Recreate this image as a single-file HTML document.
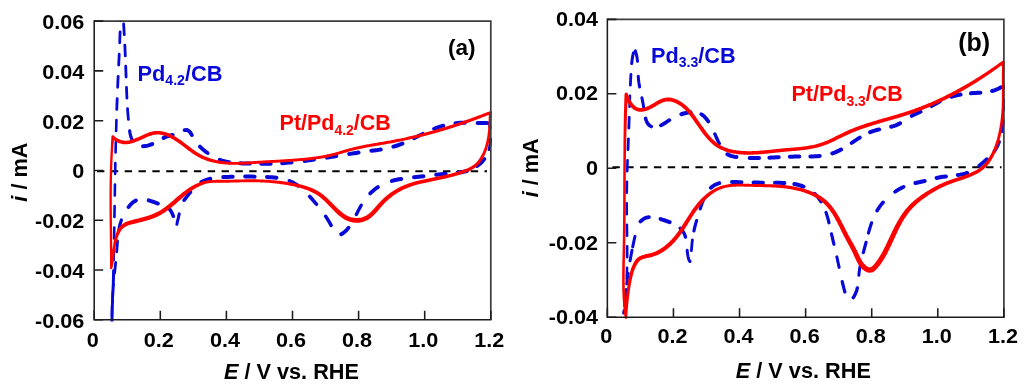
<!DOCTYPE html>
<html lang="en"><head><meta charset="utf-8"><title>Cyclic voltammograms</title>
<style>html,body{margin:0;padding:0;background:#fff;}body{width:1024px;height:391px;overflow:hidden;}svg{display:block;filter:blur(0.35px);}
text{font-family:"Liberation Sans", sans-serif;font-weight:bold;}
.ax{stroke:#1c1c1c;stroke-width:1.55;fill:none;}
.fr{stroke:#3c3c3c;stroke-width:1.7;fill:none;}
.blue{stroke:#0808d8;fill:none;stroke-linecap:round;stroke-linejoin:round;}
.redf{fill:#ff0000;stroke:none;fill-rule:nonzero;}
.zero{stroke:#000;stroke-width:1.9;stroke-dasharray:7.4 6.44;fill:none;}
</style></head><body>
<svg width="1024" height="391" viewBox="0 0 1024 391">
<rect width="1024" height="391" fill="#fff"/>
<g>
<clipPath id="clipa"><rect x="92.20" y="20.40" width="400.60" height="301.20"/></clipPath>
<path class="zero" d="M97.00 171.30 H487.00"/>
<g clip-path="url(#clipa)">
<g transform="scale(1 1.0)">
<path class="blue" stroke-width="2.6" d="M112.51 302.91 L112.58 300.75 L112.65 298.59 L112.72 296.43 L112.79 294.26 L112.85 292.10M113.15 281.42 L113.21 279.26 L113.26 277.09 L113.32 274.93 L113.37 272.77 L113.42 270.61M113.66 259.92 L113.71 257.76 L113.75 255.60 L113.79 253.44 L113.84 251.28 L113.88 249.12M114.08 238.43 L114.12 236.27 L114.15 234.10 L114.19 231.94 L114.23 229.78 L114.26 227.62M114.44 216.93 L114.47 214.77 L114.51 212.61 L114.54 210.44 L114.58 208.28 L114.61 206.12M114.79 195.43 L114.82 193.27 L114.86 191.11 L114.89 188.95 L114.93 186.79 L114.97 184.62M115.16 173.94 L115.19 171.77 L115.24 169.61 L115.28 167.45 L115.32 165.29 L115.36 163.13M115.59 152.44 L115.63 150.28 L115.68 148.12 L115.73 145.96 L115.78 143.79 L115.84 141.63M116.12 130.95 L116.18 128.79 L116.24 126.62 L116.30 124.46 L116.36 122.30 L116.43 120.14M112.15 305.27 L112.07 307.43 L112.01 309.59 L111.97 311.75 L111.94 313.91 L111.93 316.07"/>
<path class="blue" stroke-width="2.8" d="M111.80 322.00 L111.88 319.90 L111.97 317.80 L112.05 315.69 L112.13 313.59M116.78 109.46 L116.86 107.30 L116.93 105.14 L117.01 102.98 L117.10 100.82 L117.18 98.66M117.65 87.23 L117.75 85.07 L117.84 82.91 L117.94 80.75 L118.04 78.59 L118.15 76.43M118.70 65.01 L118.80 62.85 L118.91 60.69 L119.01 58.53 L119.11 56.37 L119.21 54.21M119.70 42.79 L119.78 40.63 L119.86 38.46 L119.94 36.30 L120.01 34.14 L120.08 31.98M120.51 20.80 L120.60 18.65 L120.70 16.49 L120.80 14.33 L120.91 12.17 L121.02 10.01M122.26 1.95 L122.56 4.08 L122.71 6.24 L122.84 8.39 L122.95 10.55 L123.07 12.71M123.63 23.89 L123.74 26.05 L123.87 28.20 L123.99 30.36 L124.12 32.52 L124.25 34.68M124.81 45.04 L124.92 47.20 L125.02 49.36 L125.11 51.52 L125.21 53.68 L125.30 55.83M125.71 66.20 L125.79 68.36 L125.87 70.52 L125.94 72.68 L126.02 74.84 L126.10 77.00M126.48 87.37 L126.57 89.53 L126.66 91.69 L126.75 93.85 L126.84 96.01 L126.94 98.17M127.53 108.53 L127.67 110.68 L127.83 112.84 L128.00 114.99 L128.18 117.14 L128.38 119.30M117.56 241.00 L117.39 243.16 L117.23 245.31 L117.05 247.46 L116.87 249.62 L116.69 251.77M115.68 262.42 L115.47 264.57 L115.25 266.72 L115.04 268.87 L114.82 271.02 L114.61 273.16M113.60 283.82 L113.41 285.97 L113.23 288.12 L113.06 290.28 L112.89 292.43 L112.74 294.59M113.70 274.00 L112.90 290.00 L112.30 306.00 L112.00 322.00"/>
<path class="blue" stroke-width="3.0" d="M489.50 122.80 L489.82 125.50 L490.10 128.20M490.56 138.89 L490.48 141.04 L490.28 143.19 L489.99 145.33 L489.60 147.45 L489.10 149.55M179.21 213.86 L178.78 215.97 L178.28 218.06 L177.77 220.14 L177.28 222.23 L176.94 224.35"/>
<path class="blue" stroke-width="3.2" d="M129.68 130.92 L130.01 133.03 L130.43 135.13 L130.99 137.20 L131.82 139.17 L132.89 141.01M121.42 219.93 L120.74 221.96 L120.13 224.01 L119.59 226.08 L119.16 228.18 L118.78 230.29"/>
<path class="blue" stroke-width="3.4" d="M361.23 205.28 L360.19 207.10 L359.19 208.95 L358.22 210.81 L357.27 212.68 L356.33 214.56"/>
<path class="blue" stroke-width="3.6" d="M331.05 225.32 L330.07 223.48 L329.04 221.66 L327.97 219.87 L326.84 218.11 L325.69 216.37M316.39 204.22 L315.09 202.65 L313.77 201.09 L312.44 199.54 L311.10 198.00 L309.72 196.49M190.46 192.13 L189.17 193.73 L187.89 195.33 L186.62 196.95 L185.35 198.56 L184.12 200.21M173.28 216.24 L172.56 214.28 L171.68 212.39 L170.63 210.59 L169.37 208.92 L167.72 207.65"/>
<path class="blue" stroke-width="3.8" d="M184.57 130.03 L187.00 129.83 L189.12 131.06 L190.62 132.96 L191.85 135.09M199.96 146.63 L201.74 148.39 L203.62 150.03 L205.57 151.59 L207.59 153.06M414.15 138.29 L416.30 137.17 L418.44 136.04 L420.59 134.92 L422.76 133.82M484.35 159.08 L483.10 160.66 L481.74 162.15 L480.28 163.54 L478.75 164.86 L477.14 166.08M377.89 187.10 L375.87 188.54 L373.91 190.09 L372.04 191.73 L370.24 193.46M348.57 227.65 L347.30 229.21 L345.96 230.71 L344.50 232.09 L342.91 233.28 L341.15 234.25M297.93 185.67 L295.92 184.29 L293.83 183.03 L291.68 181.88 L289.47 180.87M135.92 200.52 L134.18 201.49 L132.55 202.65 L131.12 204.04 L129.79 205.53 L128.54 207.10"/>
<path class="blue" stroke-width="4.0" d="M143.02 146.13 L145.39 146.10 L147.71 145.65 L149.96 144.95 L152.15 144.06M163.62 137.88 L165.80 136.91 L168.03 136.11 L170.33 135.48 L172.66 134.95M219.82 159.79 L222.06 160.59 L224.34 161.24 L226.65 161.79 L228.98 162.24M240.33 163.35 L242.68 163.44 L245.03 163.50 L247.38 163.55 L249.73 163.60M261.24 163.79 L263.59 163.80 L265.94 163.78 L268.29 163.75 L270.64 163.70M282.14 163.16 L284.48 162.99 L286.83 162.80 L289.17 162.60 L291.51 162.39M304.60 160.92 L306.94 160.61 L309.27 160.30 L311.61 159.97 L313.94 159.64M326.94 157.65 L329.27 157.27 L331.60 156.89 L333.93 156.51 L336.25 156.12M349.22 154.00 L351.55 153.63 L353.88 153.26 L356.21 152.90 L358.54 152.56M371.41 150.83 L373.75 150.54 L376.08 150.23 L378.41 149.89 L380.74 149.53M393.40 146.66 L395.68 145.97 L397.96 145.24 L400.21 144.46 L402.44 143.62M434.13 128.75 L436.36 127.90 L438.61 127.11 L440.88 126.37 L443.17 125.69M455.52 123.19 L457.86 122.95 L460.21 122.79 L462.55 122.70 L464.91 122.67M477.66 122.97 L480.01 123.02 L482.36 123.04 L484.71 123.01 L487.06 122.94M466.89 170.94 L464.60 171.53 L462.29 172.02 L459.96 172.41 L457.62 172.71M445.61 173.77 L443.27 173.99 L440.93 174.23 L438.59 174.48 L436.25 174.76M423.39 176.32 L421.05 176.59 L418.71 176.84 L416.37 177.08 L414.03 177.32M401.17 178.91 L398.84 179.32 L396.52 179.77 L394.21 180.29 L391.92 180.89M276.39 177.72 L274.05 177.48 L271.71 177.28 L269.36 177.13 L267.01 177.01M254.56 176.63 L252.21 176.60 L249.86 176.58 L247.51 176.58 L245.16 176.58M232.68 176.77 L230.34 176.83 L227.99 176.90 L225.64 176.98 L223.29 177.08M210.31 178.71 L208.01 179.34 L205.74 180.10 L203.53 181.01 L201.40 182.11M157.82 203.52 L155.57 202.70 L153.33 201.89 L151.07 201.11 L148.79 200.41"/>
<path class="redf" d="M112.38 268.00 L112.37 266.80 L112.37 265.59 L112.37 264.39 L112.37 263.18 L112.36 261.98 L112.36 260.77 L112.35 259.57 L112.34 258.37 L112.34 257.16 L112.33 255.96 L112.32 254.75 L112.31 253.55 L112.30 252.35 L112.29 251.14 L112.28 249.94 L112.26 248.74 L112.25 247.53 L112.24 246.33 L112.23 245.13 L112.21 243.92 L112.20 242.72 L112.19 241.52 L112.17 240.31 L112.16 239.11 L112.15 237.90 L112.13 236.70 L112.12 235.50 L112.10 234.30 L112.09 233.09 L112.07 231.89 L112.06 230.69 L112.04 229.48 L112.03 228.28 L112.02 227.08 L112.00 225.87 L111.99 224.67 L111.98 223.47 L111.96 222.26 L111.95 221.06 L111.94 219.86 L111.93 218.66 L111.91 217.45 L111.90 216.25 L111.89 215.05 L111.88 213.85 L111.87 212.64 L111.86 211.44 L111.86 210.24 L111.85 209.03 L111.84 207.83 L111.84 206.63 L111.83 205.43 L111.83 204.22 L111.82 203.02 L111.82 201.82 L111.82 200.62 L111.82 199.42 L111.82 198.21 L111.82 197.01 L111.82 195.81 L111.83 194.61 L111.83 193.40 L111.84 192.20 L111.84 191.00 L111.85 189.80 L111.86 188.60 L111.87 187.39 L111.88 186.19 L111.90 184.99 L111.91 183.79 L111.93 182.59 L111.95 181.39 L111.97 180.18 L111.99 178.98 L112.01 177.78 L112.03 176.58 L112.06 175.38 L112.09 174.18 L112.12 172.98 L112.15 171.77 L112.18 170.57 L112.22 169.37 L112.25 168.17 L112.29 166.97 L112.33 165.77 L112.37 164.57 L112.42 163.37 L112.46 162.17 L112.51 160.97 L112.56 159.77 L112.62 158.57 L112.67 157.37 L112.73 156.17 L112.79 154.97 L112.85 153.77 L112.91 152.57 L112.98 151.37 L113.05 150.17 L113.14 148.97 L113.24 147.78 L113.35 146.58 L113.45 145.39 L113.56 144.19 L113.66 142.99 L113.78 141.80 L113.89 140.60 L114.01 139.41 L114.13 138.21 L114.25 137.02 L111.35 136.78 L111.28 137.99 L111.21 139.19 L111.14 140.39 L111.08 141.60 L111.01 142.80 L110.96 144.01 L110.90 145.21 L110.85 146.42 L110.80 147.62 L110.75 148.83 L110.70 150.04 L110.63 151.24 L110.56 152.44 L110.50 153.65 L110.44 154.85 L110.38 156.05 L110.32 157.26 L110.27 158.46 L110.21 159.67 L110.16 160.87 L110.11 162.08 L110.07 163.28 L110.02 164.48 L109.98 165.69 L109.94 166.89 L109.90 168.10 L109.86 169.30 L109.83 170.51 L109.80 171.71 L109.76 172.92 L109.74 174.12 L109.71 175.33 L109.68 176.53 L109.66 177.74 L109.64 178.94 L109.61 180.14 L109.60 181.35 L109.58 182.55 L109.56 183.76 L109.55 184.96 L109.53 186.17 L109.52 187.37 L109.51 188.58 L109.50 189.78 L109.49 190.98 L109.48 192.19 L109.48 193.39 L109.47 194.60 L109.47 195.80 L109.47 197.01 L109.47 198.21 L109.47 199.42 L109.47 200.62 L109.47 201.82 L109.47 203.03 L109.47 204.23 L109.48 205.44 L109.48 206.64 L109.49 207.84 L109.50 209.05 L109.50 210.25 L109.51 211.46 L109.52 212.66 L109.53 213.86 L109.54 215.07 L109.55 216.27 L109.56 217.48 L109.57 218.68 L109.59 219.88 L109.60 221.09 L109.61 222.29 L109.62 223.49 L109.64 224.70 L109.65 225.90 L109.66 227.10 L109.68 228.31 L109.69 229.51 L109.71 230.71 L109.72 231.92 L109.74 233.12 L109.75 234.32 L109.76 235.53 L109.78 236.73 L109.79 237.93 L109.81 239.14 L109.82 240.34 L109.84 241.54 L109.85 242.75 L109.86 243.95 L109.88 245.15 L109.89 246.35 L109.90 247.56 L109.91 248.76 L109.92 249.96 L109.94 251.16 L109.95 252.37 L109.96 253.57 L109.97 254.77 L109.98 255.98 L109.98 257.18 L109.99 258.38 L110.00 259.58 L110.00 260.79 L110.01 261.99 L110.01 263.19 L110.02 264.39 L110.02 265.60 L110.02 266.80 L110.02 268.00ZM111.83 137.99 L112.68 138.83 L113.58 139.72 L114.59 140.58 L115.62 141.32 L116.72 142.10 L117.95 142.65 L119.13 143.16 L120.42 143.58 L121.67 143.87 L123.00 144.16 L124.37 144.23 L125.64 144.28 L126.98 144.23 L128.25 144.07 L129.55 143.90 L130.82 143.59 L132.03 143.28 L133.25 142.92 L134.43 142.50 L135.60 142.09 L136.76 141.61 L137.88 141.14 L139.01 140.66 L140.12 140.16 L141.22 139.66 L142.31 139.16 L143.40 138.66 L144.48 138.18 L145.57 137.70 L146.64 137.23 L147.73 136.80 L148.82 136.37 L149.89 135.98 L151.00 135.63 L152.07 135.29 L153.16 135.05 L154.28 134.81 L155.35 134.64 L156.47 134.55 L157.55 134.47 L158.62 134.52 L159.76 134.60 L160.83 134.73 L161.93 134.95 L163.04 135.17 L164.09 135.49 L165.20 135.84 L166.26 136.21 L167.32 136.65 L168.39 137.09 L169.41 137.58 L170.46 138.10 L171.48 138.63 L172.50 139.21 L173.51 139.79 L174.50 140.40 L175.50 141.03 L176.48 141.66 L177.45 142.32 L178.43 142.99 L179.39 143.68 L180.35 144.37 L181.31 145.07 L182.25 145.79 L183.21 146.51 L184.16 147.23 L185.11 147.96 L186.06 148.70 L187.02 149.43 L187.98 150.16 L188.95 150.89 L189.92 151.61 L190.91 152.33 L191.91 153.03 L192.91 153.74 L193.94 154.42 L194.96 155.08 L196.01 155.75 L197.08 156.37 L198.15 156.99 L199.26 157.58 L200.36 158.12 L201.48 158.66 L202.63 159.14 L203.76 159.62 L204.92 160.07 L206.07 160.49 L207.24 160.91 L208.42 161.27 L209.59 161.64 L210.78 161.97 L211.96 162.28 L213.16 162.59 L214.36 162.85 L215.56 163.10 L216.77 163.33 L217.97 163.54 L219.18 163.75 L220.40 163.91 L221.60 164.07 L222.82 164.21 L224.03 164.32 L225.25 164.44 L226.47 164.52 L227.68 164.59 L228.91 164.66 L230.12 164.72 L231.33 164.77 L232.55 164.80 L233.76 164.82 L234.98 164.83 L236.19 164.82 L237.40 164.82 L238.62 164.79 L239.82 164.77 L241.03 164.73 L242.24 164.68 L243.45 164.64 L244.66 164.58 L245.86 164.52 L247.07 164.45 L248.27 164.38 L249.47 164.31 L250.67 164.24 L251.87 164.16 L253.07 164.08 L254.27 164.00 L255.47 163.92 L256.66 163.85 L257.86 163.77 L259.06 163.69 L260.26 163.62 L261.45 163.55 L262.65 163.48 L263.85 163.41 L265.04 163.34 L266.24 163.27 L267.44 163.20 L268.64 163.14 L269.84 163.07 L271.04 163.00 L272.24 162.94 L273.44 162.87 L274.63 162.81 L275.83 162.74 L277.03 162.67 L278.23 162.60 L279.43 162.54 L280.63 162.47 L281.83 162.40 L283.03 162.33 L284.23 162.25 L285.43 162.18 L286.64 162.10 L287.84 162.03 L289.04 161.95 L290.24 161.87 L291.44 161.78 L292.64 161.70 L293.84 161.61 L295.04 161.52 L296.24 161.42 L297.44 161.33 L298.64 161.23 L299.84 161.12 L301.04 161.02 L302.24 160.91 L303.44 160.80 L304.64 160.68 L305.84 160.56 L307.04 160.43 L308.24 160.30 L309.44 160.17 L310.64 160.03 L311.83 159.89 L313.03 159.74 L314.23 159.58 L315.43 159.43 L316.63 159.26 L317.82 159.09 L319.02 158.92 L320.21 158.73 L321.41 158.54 L322.61 158.34 L323.79 158.13 L324.99 157.92 L326.18 157.68 L327.37 157.45 L328.56 157.19 L329.74 156.93 L330.93 156.66 L332.11 156.37 L333.29 156.07 L334.47 155.76 L335.63 155.44 L336.80 155.12 L337.96 154.78 L339.12 154.45 L340.28 154.11 L341.43 153.76 L342.58 153.42 L343.73 153.07 L344.88 152.73 L346.03 152.39 L347.18 152.06 L348.32 151.73 L349.47 151.41 L350.62 151.10 L351.77 150.79 L352.92 150.50 L354.07 150.21 L355.23 149.93 L356.39 149.66 L357.55 149.40 L358.72 149.14 L359.89 148.88 L361.05 148.64 L362.22 148.40 L363.39 148.17 L364.57 147.94 L365.74 147.71 L366.91 147.49 L368.09 147.27 L369.27 147.06 L370.45 146.85 L371.63 146.64 L372.81 146.44 L373.99 146.23 L375.17 146.03 L376.35 145.83 L377.54 145.63 L378.72 145.43 L379.90 145.24 L381.09 145.04 L382.27 144.84 L383.46 144.64 L384.64 144.44 L385.83 144.24 L387.02 144.03 L388.20 143.82 L389.39 143.62 L390.57 143.40 L391.76 143.19 L392.94 142.97 L394.13 142.75 L395.31 142.53 L396.50 142.30 L397.68 142.07 L398.86 141.83 L400.04 141.59 L401.22 141.36 L402.40 141.11 L403.58 140.87 L404.76 140.62 L405.94 140.37 L407.12 140.12 L408.30 139.86 L409.47 139.60 L410.65 139.34 L411.82 139.07 L413.00 138.80 L414.17 138.53 L415.34 138.25 L416.52 137.98 L417.69 137.70 L418.86 137.41 L420.03 137.13 L421.20 136.84 L422.37 136.54 L423.53 136.25 L424.70 135.95 L425.87 135.65 L427.03 135.35 L428.20 135.04 L429.36 134.73 L430.53 134.42 L431.69 134.10 L432.85 133.79 L434.01 133.47 L435.17 133.14 L436.33 132.82 L437.49 132.49 L438.65 132.16 L439.81 131.82 L440.96 131.48 L442.12 131.15 L443.27 130.80 L444.43 130.46 L445.58 130.11 L446.73 129.76 L447.89 129.41 L449.04 129.05 L450.19 128.70 L451.34 128.33 L452.48 127.96 L453.63 127.59 L454.77 127.22 L455.92 126.84 L457.06 126.46 L458.20 126.08 L459.34 125.70 L460.49 125.31 L461.62 124.92 L462.77 124.53 L463.90 124.14 L465.04 123.75 L466.18 123.35 L467.31 122.95 L468.45 122.54 L469.58 122.14 L470.71 121.73 L471.85 121.32 L472.98 120.91 L474.11 120.49 L475.24 120.08 L476.37 119.66 L477.49 119.24 L478.62 118.81 L479.75 118.39 L480.87 117.96 L482.00 117.53 L483.12 117.09 L484.24 116.66 L485.37 116.22 L486.49 115.78 L487.61 115.34 L488.72 114.90 L489.84 114.45 L490.96 114.01 L489.84 111.19 L488.73 111.63 L487.61 112.07 L486.49 112.51 L485.38 112.94 L484.26 113.37 L483.14 113.80 L482.02 114.23 L480.90 114.65 L479.78 115.08 L478.66 115.50 L477.54 115.91 L476.41 116.33 L475.29 116.74 L474.16 117.16 L473.04 117.57 L471.91 117.97 L470.78 118.38 L469.66 118.78 L468.53 119.18 L467.40 119.58 L466.27 119.97 L465.14 120.36 L464.00 120.75 L462.87 121.14 L461.74 121.53 L460.60 121.91 L459.47 122.29 L458.33 122.67 L457.19 123.04 L456.06 123.41 L454.92 123.78 L453.78 124.15 L452.64 124.52 L451.50 124.88 L450.35 125.24 L449.21 125.60 L448.07 125.96 L446.93 126.32 L445.78 126.67 L444.64 127.03 L443.50 127.37 L442.35 127.72 L441.20 128.07 L440.06 128.41 L438.91 128.75 L437.76 129.09 L436.61 129.42 L435.46 129.75 L434.31 130.08 L433.16 130.41 L432.01 130.73 L430.85 131.05 L429.70 131.37 L428.54 131.68 L427.39 132.00 L426.23 132.31 L425.07 132.61 L423.92 132.92 L422.76 133.22 L421.60 133.52 L420.44 133.81 L419.28 134.11 L418.12 134.40 L416.95 134.68 L415.79 134.97 L414.63 135.25 L413.46 135.53 L412.30 135.80 L411.13 136.07 L409.97 136.34 L408.80 136.61 L407.63 136.87 L406.46 137.13 L405.29 137.39 L404.12 137.65 L402.96 137.90 L401.78 138.14 L400.61 138.39 L399.44 138.63 L398.27 138.87 L397.09 139.10 L395.92 139.33 L394.74 139.56 L393.57 139.79 L392.39 140.01 L391.22 140.23 L390.04 140.44 L388.86 140.66 L387.68 140.87 L386.50 141.07 L385.32 141.28 L384.14 141.48 L382.96 141.69 L381.78 141.89 L380.59 142.09 L379.41 142.29 L378.22 142.49 L377.04 142.69 L375.85 142.89 L374.67 143.09 L373.48 143.29 L372.30 143.50 L371.11 143.71 L369.93 143.92 L368.74 144.13 L367.55 144.35 L366.37 144.57 L365.18 144.79 L364.00 145.03 L362.82 145.26 L361.63 145.50 L360.45 145.74 L359.27 145.99 L358.08 146.25 L356.91 146.51 L355.73 146.78 L354.55 147.06 L353.37 147.34 L352.20 147.64 L351.03 147.94 L349.85 148.25 L348.69 148.58 L347.52 148.90 L346.36 149.24 L345.20 149.58 L344.04 149.92 L342.89 150.27 L341.74 150.61 L340.59 150.96 L339.44 151.30 L338.30 151.64 L337.15 151.98 L336.00 152.31 L334.86 152.63 L333.71 152.95 L332.56 153.25 L331.41 153.54 L330.26 153.83 L329.11 154.09 L327.94 154.35 L326.79 154.59 L325.62 154.82 L324.45 155.05 L323.29 155.26 L322.11 155.47 L320.94 155.67 L319.76 155.85 L318.58 156.04 L317.41 156.21 L316.22 156.38 L315.04 156.54 L313.86 156.70 L312.67 156.85 L311.49 156.99 L310.30 157.14 L309.11 157.28 L307.92 157.41 L306.73 157.54 L305.55 157.66 L304.35 157.78 L303.16 157.90 L301.97 158.01 L300.78 158.12 L299.59 158.22 L298.40 158.33 L297.20 158.43 L296.01 158.52 L294.82 158.62 L293.62 158.70 L292.43 158.79 L291.23 158.88 L290.04 158.96 L288.84 159.04 L287.65 159.12 L286.45 159.20 L285.25 159.27 L284.06 159.35 L282.86 159.42 L281.66 159.49 L280.46 159.56 L279.27 159.63 L278.07 159.70 L276.87 159.76 L275.67 159.83 L274.47 159.90 L273.27 159.96 L272.08 160.03 L270.88 160.10 L269.68 160.16 L268.48 160.23 L267.28 160.29 L266.08 160.36 L264.88 160.43 L263.68 160.50 L262.48 160.57 L261.28 160.64 L260.08 160.71 L258.88 160.79 L257.68 160.86 L256.48 160.94 L255.28 161.02 L254.08 161.10 L252.88 161.18 L251.68 161.25 L250.49 161.33 L249.29 161.41 L248.10 161.48 L246.90 161.55 L245.71 161.61 L244.51 161.67 L243.32 161.73 L242.13 161.77 L240.94 161.82 L239.75 161.86 L238.55 161.88 L237.37 161.91 L236.18 161.91 L234.99 161.92 L233.80 161.91 L232.61 161.88 L231.43 161.86 L230.25 161.81 L229.06 161.76 L227.88 161.69 L226.69 161.58 L225.52 161.48 L224.35 161.34 L223.17 161.20 L222.01 161.04 L220.84 160.86 L219.68 160.68 L218.53 160.46 L217.37 160.23 L216.23 159.98 L215.08 159.71 L213.94 159.43 L212.82 159.12 L211.68 158.79 L210.57 158.45 L209.45 158.08 L208.35 157.71 L207.27 157.29 L206.17 156.86 L205.10 156.42 L204.03 155.94 L202.97 155.46 L201.95 154.94 L200.90 154.39 L199.89 153.86 L198.88 153.27 L197.87 152.69 L196.90 152.07 L195.90 151.42 L194.93 150.78 L193.97 150.10 L193.00 149.42 L192.05 148.72 L191.09 148.01 L190.14 147.30 L189.19 146.58 L188.24 145.85 L187.29 145.12 L186.34 144.39 L185.38 143.65 L184.41 142.93 L183.44 142.20 L182.46 141.48 L181.48 140.77 L180.48 140.05 L179.48 139.37 L178.46 138.68 L177.43 138.01 L176.40 137.36 L175.34 136.70 L174.27 136.09 L173.20 135.48 L172.09 134.91 L170.99 134.36 L169.85 133.81 L168.69 133.34 L167.53 132.86 L166.33 132.44 L165.14 132.06 L163.90 131.70 L162.65 131.44 L161.40 131.19 L160.09 131.03 L158.83 130.94 L157.50 130.88 L156.20 130.98 L154.92 131.08 L153.62 131.29 L152.39 131.55 L151.14 131.83 L149.92 132.21 L148.74 132.59 L147.55 133.02 L146.41 133.46 L145.26 133.92 L144.13 134.42 L143.03 134.90 L141.92 135.40 L140.82 135.90 L139.73 136.40 L138.64 136.89 L137.56 137.38 L136.48 137.84 L135.39 138.30 L134.32 138.74 L133.23 139.12 L132.14 139.51 L131.07 139.83 L129.95 140.12 L128.89 140.38 L127.80 140.52 L126.69 140.66 L125.64 140.70 L124.52 140.65 L123.48 140.61 L122.47 140.37 L121.38 140.13 L120.40 139.81 L119.37 139.36 L118.40 138.96 L117.48 138.44 L116.49 137.88 L115.60 137.28 L114.71 136.57 L113.77 135.81ZM488.89 112.53 L488.85 113.73 L488.81 114.93 L488.77 116.13 L488.73 117.34 L488.69 118.54 L488.65 119.74 L488.61 120.94 L488.57 122.13 L488.52 123.33 L488.48 124.52 L488.41 125.72 L488.35 126.91 L488.27 128.10 L488.16 129.29 L488.05 130.47 L487.92 131.65 L487.79 132.84 L487.64 134.01 L487.47 135.20 L487.31 136.36 L487.11 137.53 L486.91 138.70 L486.69 139.85 L486.44 141.02 L486.20 142.16 L485.90 143.30 L485.61 144.45 L485.29 145.57 L484.94 146.70 L484.59 147.81 L484.19 148.91 L483.78 150.01 L483.35 151.09 L482.88 152.17 L482.42 153.23 L481.89 154.26 L481.35 155.31 L480.79 156.31 L480.18 157.31 L479.59 158.29 L478.92 159.21 L478.23 160.15 L477.53 161.03 L476.75 161.90 L476.02 162.74 L475.19 163.49 L474.33 164.26 L473.47 164.94 L472.53 165.60 L471.62 166.23 L470.64 166.75 L469.61 167.31 L468.59 167.80 L467.52 168.26 L466.46 168.72 L465.37 169.12 L464.26 169.53 L463.15 169.93 L462.02 170.32 L460.91 170.71 L459.78 171.07 L458.64 171.43 L457.51 171.78 L456.37 172.12 L455.23 172.46 L454.09 172.77 L452.94 173.09 L451.79 173.39 L450.63 173.69 L449.48 173.99 L448.32 174.27 L447.16 174.55 L446.00 174.82 L444.84 175.09 L443.67 175.35 L442.51 175.61 L441.34 175.86 L440.17 176.11 L438.99 176.35 L437.82 176.60 L436.65 176.84 L435.47 177.08 L434.30 177.31 L433.12 177.54 L431.94 177.78 L430.77 178.01 L429.59 178.24 L428.40 178.48 L427.23 178.71 L426.04 178.95 L424.86 179.19 L423.67 179.43 L422.49 179.69 L421.31 179.95 L420.12 180.21 L418.93 180.49 L417.75 180.77 L416.56 181.06 L415.39 181.37 L414.20 181.68 L413.01 182.03 L411.85 182.38 L410.67 182.75 L409.51 183.14 L408.34 183.53 L407.18 183.97 L406.04 184.40 L404.89 184.86 L403.77 185.34 L402.62 185.82 L401.50 186.35 L400.40 186.87 L399.28 187.43 L398.20 188.00 L397.10 188.58 L396.03 189.20 L394.97 189.82 L393.91 190.47 L392.88 191.14 L391.83 191.81 L390.82 192.53 L389.82 193.24 L388.82 193.98 L387.85 194.74 L386.87 195.50 L385.92 196.32 L384.99 197.11 L384.06 197.95 L383.16 198.78 L382.25 199.64 L381.38 200.53 L380.53 201.41 L379.68 202.31 L378.86 203.22 L378.04 204.12 L377.23 205.04 L376.44 205.94 L375.65 206.84 L374.85 207.73 L374.07 208.61 L373.27 209.46 L372.47 210.32 L371.66 211.13 L370.82 211.94 L370.02 212.71 L369.15 213.41 L368.27 214.13 L367.40 214.76 L366.44 215.38 L365.57 215.94 L364.62 216.37 L363.61 216.83 L362.65 217.16 L361.58 217.44 L360.58 217.70 L359.56 217.80 L358.44 217.92 L357.41 217.95 L356.29 217.93 L355.24 217.95 L354.21 217.83 L353.09 217.71 L352.07 217.52 L350.98 217.24 L349.97 216.99 L349.02 216.59 L347.97 216.15 L347.02 215.67 L346.04 215.10 L345.09 214.56 L344.19 213.92 L343.24 213.25 L342.34 212.57 L341.44 211.83 L340.55 211.11 L339.69 210.34 L338.81 209.55 L337.96 208.76 L337.10 207.94 L336.25 207.12 L335.42 206.28 L334.57 205.44 L333.73 204.59 L332.89 203.74 L332.04 202.87 L331.19 202.02 L330.34 201.16 L329.47 200.30 L328.60 199.46 L327.71 198.60 L326.80 197.77 L325.89 196.94 L324.94 196.13 L324.00 195.35 L323.02 194.54 L322.00 193.80 L321.00 193.08 L319.95 192.37 L318.90 191.72 L317.83 191.05 L316.72 190.45 L315.63 189.86 L314.51 189.30 L313.40 188.78 L312.26 188.25 L311.10 187.78 L309.97 187.33 L308.80 186.90 L307.64 186.50 L306.47 186.10 L305.28 185.74 L304.12 185.39 L302.93 185.06 L301.75 184.75 L300.56 184.45 L299.36 184.17 L298.18 183.90 L296.98 183.65 L295.80 183.41 L294.60 183.17 L293.40 182.96 L292.21 182.75 L291.01 182.54 L289.82 182.35 L288.62 182.15 L287.42 181.96 L286.23 181.78 L285.03 181.60 L283.83 181.44 L282.63 181.27 L281.43 181.12 L280.23 180.97 L279.02 180.83 L277.82 180.70 L276.62 180.57 L275.41 180.45 L274.21 180.34 L273.00 180.23 L271.80 180.13 L270.59 180.04 L269.38 179.95 L268.18 179.86 L266.97 179.78 L265.77 179.71 L264.56 179.64 L263.35 179.58 L262.14 179.53 L260.93 179.48 L259.72 179.44 L258.51 179.40 L257.30 179.37 L256.10 179.35 L254.89 179.33 L253.68 179.32 L252.47 179.31 L251.26 179.32 L250.06 179.32 L248.85 179.32 L247.64 179.34 L246.44 179.35 L245.23 179.37 L244.03 179.39 L242.82 179.41 L241.62 179.44 L240.42 179.46 L239.21 179.49 L238.01 179.52 L236.81 179.55 L235.60 179.58 L234.40 179.61 L233.20 179.64 L232.00 179.67 L230.80 179.70 L229.60 179.73 L228.40 179.75 L227.20 179.78 L226.00 179.80 L224.81 179.82 L223.61 179.83 L222.41 179.85 L221.21 179.86 L220.01 179.86 L218.82 179.87 L217.62 179.86 L216.41 179.86 L215.20 179.88 L213.98 179.89 L212.75 179.93 L211.53 179.99 L210.28 180.06 L209.03 180.19 L207.80 180.32 L206.54 180.51 L205.33 180.75 L204.09 180.99 L202.86 181.33 L201.68 181.67 L200.47 182.06 L199.32 182.49 L198.13 182.92 L196.98 183.44 L195.86 183.94 L194.73 184.48 L193.64 185.06 L192.53 185.65 L191.46 186.29 L190.41 186.92 L189.36 187.59 L188.34 188.27 L187.31 188.95 L186.30 189.68 L185.32 190.39 L184.33 191.13 L183.36 191.87 L182.39 192.62 L181.44 193.39 L180.50 194.15 L179.55 194.92 L178.62 195.69 L177.70 196.48 L176.79 197.27 L175.88 198.06 L174.98 198.85 L174.07 199.64 L173.17 200.42 L172.26 201.20 L171.35 201.97 L170.45 202.74 L169.53 203.50 L168.62 204.25 L167.70 204.98 L166.77 205.72 L165.84 206.43 L164.89 207.13 L163.96 207.82 L163.00 208.48 L162.03 209.14 L161.07 209.76 L160.06 210.38 L159.09 210.98 L158.08 211.51 L157.05 212.07 L156.04 212.58 L154.97 213.07 L153.93 213.55 L152.87 213.97 L151.77 214.41 L150.69 214.82 L149.58 215.21 L148.48 215.59 L147.37 215.94 L146.24 216.29 L145.11 216.62 L143.97 216.95 L142.83 217.27 L141.69 217.56 L140.53 217.87 L139.38 218.16 L138.22 218.45 L137.06 218.73 L135.90 219.01 L134.72 219.30 L133.55 219.59 L132.39 219.89 L131.18 220.20 L129.99 220.56 L128.80 220.92 L127.58 221.35 L126.42 221.81 L125.17 222.31 L124.00 222.98 L122.88 223.66 L121.77 224.51 L120.82 225.41 L119.81 226.38 L119.01 227.54 L118.31 228.59 L117.65 229.74 L117.09 230.87 L116.52 232.02 L116.06 233.22 L115.63 234.37 L115.22 235.57 L114.87 236.75 L114.52 237.95 L114.25 239.17 L113.98 240.36 L113.73 241.57 L113.52 242.77 L113.30 243.98 L113.13 245.20 L112.96 246.39 L112.79 247.60 L112.64 248.80 L112.49 250.00 L112.36 251.21 L112.22 252.41 L112.10 253.61 L111.97 254.80 L111.85 256.00 L111.72 257.19 L111.60 258.38 L111.46 259.56 L111.32 260.75 L111.17 261.93 L110.99 263.10 L110.81 264.27 L110.60 265.42 L110.35 266.58 L110.11 267.76 L112.29 268.24 L112.57 267.07 L112.84 265.89 L113.09 264.68 L113.30 263.48 L113.51 262.28 L113.68 261.07 L113.85 259.87 L114.01 258.67 L114.17 257.48 L114.32 256.28 L114.46 255.09 L114.61 253.89 L114.76 252.71 L114.92 251.52 L115.07 250.33 L115.24 249.16 L115.42 247.97 L115.60 246.80 L115.81 245.63 L116.03 244.47 L116.28 243.32 L116.54 242.17 L116.82 241.03 L117.13 239.89 L117.44 238.78 L117.81 237.68 L118.19 236.57 L118.60 235.51 L119.06 234.44 L119.51 233.41 L120.05 232.43 L120.61 231.43 L121.22 230.54 L121.92 229.65 L122.54 228.86 L123.32 228.23 L124.17 227.54 L125.00 227.00 L125.98 226.50 L126.91 225.99 L127.90 225.62 L128.98 225.22 L130.04 224.87 L131.15 224.56 L132.27 224.25 L133.40 223.99 L134.57 223.71 L135.73 223.43 L136.90 223.15 L138.07 222.87 L139.24 222.58 L140.41 222.29 L141.59 221.99 L142.76 221.68 L143.94 221.37 L145.12 221.04 L146.29 220.71 L147.47 220.36 L148.63 220.00 L149.82 219.63 L150.99 219.22 L152.14 218.82 L153.31 218.38 L154.45 217.93 L155.62 217.46 L156.76 216.93 L157.88 216.41 L159.01 215.85 L160.10 215.26 L161.21 214.67 L162.29 214.01 L163.33 213.37 L164.39 212.68 L165.40 211.99 L166.43 211.29 L167.43 210.55 L168.41 209.83 L169.39 209.07 L170.34 208.32 L171.30 207.56 L172.25 206.77 L173.18 206.00 L174.11 205.21 L175.03 204.43 L175.95 203.64 L176.86 202.85 L177.77 202.06 L178.68 201.27 L179.58 200.48 L180.48 199.70 L181.39 198.92 L182.28 198.13 L183.18 197.35 L184.09 196.58 L184.98 195.81 L185.90 195.06 L186.81 194.31 L187.73 193.58 L188.67 192.86 L189.60 192.15 L190.55 191.48 L191.51 190.80 L192.47 190.15 L193.46 189.51 L194.43 188.89 L195.43 188.32 L196.45 187.73 L197.46 187.18 L198.51 186.65 L199.52 186.13 L200.58 185.68 L201.65 185.23 L202.72 184.82 L203.83 184.45 L204.90 184.08 L206.00 183.81 L207.14 183.53 L208.25 183.31 L209.40 183.13 L210.54 182.96 L211.69 182.90 L212.87 182.84 L214.04 182.80 L215.23 182.79 L216.42 182.77 L217.61 182.78 L218.82 182.78 L220.03 182.77 L221.23 182.77 L222.44 182.76 L223.64 182.74 L224.85 182.73 L226.05 182.71 L227.26 182.69 L228.46 182.67 L229.67 182.64 L230.87 182.61 L232.07 182.58 L233.28 182.55 L234.48 182.52 L235.68 182.49 L236.88 182.46 L238.08 182.43 L239.28 182.40 L240.48 182.37 L241.68 182.35 L242.88 182.32 L244.08 182.30 L245.28 182.28 L246.48 182.26 L247.67 182.25 L248.87 182.24 L250.07 182.23 L251.27 182.23 L252.46 182.23 L253.66 182.23 L254.85 182.24 L256.05 182.26 L257.24 182.29 L258.44 182.31 L259.63 182.35 L260.82 182.39 L262.02 182.44 L263.21 182.49 L264.40 182.55 L265.59 182.62 L266.79 182.69 L267.98 182.77 L269.17 182.85 L270.36 182.94 L271.55 183.05 L272.74 183.16 L273.92 183.28 L275.11 183.41 L276.30 183.54 L277.48 183.68 L278.67 183.82 L279.85 183.97 L281.04 184.13 L282.22 184.29 L283.39 184.47 L284.58 184.65 L285.75 184.83 L286.93 185.03 L288.11 185.22 L289.28 185.43 L290.46 185.65 L291.62 185.88 L292.79 186.12 L293.95 186.36 L295.11 186.63 L296.27 186.89 L297.42 187.17 L298.57 187.46 L299.71 187.76 L300.84 188.08 L301.98 188.41 L303.10 188.76 L304.22 189.13 L305.33 189.49 L306.42 189.90 L307.53 190.31 L308.60 190.75 L309.69 191.21 L310.75 191.66 L311.79 192.16 L312.84 192.68 L313.86 193.21 L314.88 193.78 L315.88 194.34 L316.83 194.96 L317.82 195.60 L318.75 196.25 L319.68 196.95 L320.59 197.63 L321.46 198.37 L322.36 199.14 L323.22 199.91 L324.08 200.71 L324.93 201.51 L325.75 202.34 L326.60 203.19 L327.42 204.03 L328.25 204.89 L329.08 205.75 L329.90 206.62 L330.73 207.50 L331.57 208.37 L332.40 209.24 L333.25 210.12 L334.11 210.99 L334.98 211.85 L335.87 212.71 L336.76 213.54 L337.68 214.40 L338.64 215.21 L339.58 216.01 L340.58 216.80 L341.58 217.53 L342.63 218.31 L343.75 218.98 L344.84 219.64 L346.02 220.26 L347.18 220.78 L348.43 221.33 L349.73 221.73 L350.96 222.10 L352.29 222.40 L353.55 222.60 L354.90 222.81 L356.26 222.85 L357.54 222.84 L358.90 222.72 L360.17 222.53 L361.53 222.32 L362.85 221.93 L364.09 221.55 L365.37 221.05 L366.54 220.50 L367.77 219.90 L368.91 219.15 L369.96 218.45 L371.03 217.65 L371.99 216.84 L372.98 216.00 L373.90 215.10 L374.77 214.23 L375.64 213.32 L376.47 212.41 L377.29 211.49 L378.09 210.56 L378.88 209.64 L379.66 208.72 L380.44 207.80 L381.20 206.90 L381.98 206.01 L382.76 205.12 L383.54 204.26 L384.36 203.40 L385.16 202.57 L385.99 201.77 L386.84 200.95 L387.69 200.17 L388.58 199.40 L389.45 198.64 L390.36 197.92 L391.28 197.19 L392.20 196.49 L393.15 195.80 L394.09 195.12 L395.06 194.48 L396.04 193.83 L397.03 193.22 L398.04 192.61 L399.04 192.02 L400.06 191.47 L401.09 190.90 L402.13 190.37 L403.19 189.85 L404.23 189.34 L405.29 188.86 L406.38 188.39 L407.45 187.94 L408.55 187.50 L409.63 187.07 L410.73 186.68 L411.85 186.28 L412.96 185.92 L414.09 185.56 L415.21 185.21 L416.34 184.90 L417.48 184.58 L418.62 184.27 L419.78 183.98 L420.93 183.70 L422.08 183.44 L423.25 183.17 L424.41 182.92 L425.58 182.67 L426.75 182.43 L427.92 182.19 L429.10 181.95 L430.28 181.71 L431.46 181.47 L432.64 181.23 L433.81 180.99 L434.99 180.75 L436.17 180.51 L437.35 180.27 L438.53 180.02 L439.72 179.77 L440.89 179.52 L442.08 179.26 L443.25 179.00 L444.43 178.73 L445.61 178.46 L446.79 178.18 L447.97 177.90 L449.14 177.61 L450.32 177.32 L451.49 177.01 L452.66 176.70 L453.84 176.39 L455.00 176.06 L456.18 175.73 L457.34 175.38 L458.50 175.03 L459.66 174.66 L460.82 174.29 L461.98 173.91 L463.13 173.51 L464.28 173.11 L465.43 172.68 L466.56 172.24 L467.72 171.79 L468.85 171.28 L469.98 170.77 L471.12 170.20 L472.20 169.60 L473.33 168.97 L474.38 168.21 L475.40 167.48 L476.40 166.65 L477.32 165.80 L478.26 164.92 L479.10 163.94 L479.90 163.00 L480.68 161.99 L481.40 160.98 L482.12 159.94 L482.76 158.85 L483.38 157.79 L483.98 156.69 L484.52 155.59 L485.07 154.47 L485.55 153.32 L486.03 152.19 L486.47 151.03 L486.88 149.88 L487.30 148.71 L487.65 147.52 L487.99 146.35 L488.31 145.16 L488.60 143.98 L488.89 142.78 L489.14 141.57 L489.37 140.38 L489.59 139.17 L489.78 137.97 L489.97 136.76 L490.13 135.55 L490.28 134.35 L490.42 133.14 L490.54 131.93 L490.66 130.72 L490.75 129.51 L490.84 128.30 L490.94 127.09 L491.04 125.89 L491.14 124.69 L491.22 123.48 L491.30 122.28 L491.38 121.07 L491.46 119.87 L491.54 118.67 L491.61 117.47 L491.68 116.27 L491.76 115.07 L491.83 113.87 L491.91 112.67ZM110.02 268.00a1.18 1.18 0 1 0 2.35 0a1.18 1.18 0 1 0 -2.35 0ZM111.34 136.90a1.46 1.46 0 1 0 2.91 0a1.46 1.46 0 1 0 -2.91 0ZM111.34 136.90a1.46 1.46 0 1 0 2.91 0a1.46 1.46 0 1 0 -2.91 0ZM488.89 112.60a1.51 1.51 0 1 0 3.02 0a1.51 1.51 0 1 0 -3.02 0ZM488.89 112.60a1.51 1.51 0 1 0 3.02 0a1.51 1.51 0 1 0 -3.02 0ZM110.08 268.00a1.12 1.12 0 1 0 2.24 0a1.12 1.12 0 1 0 -2.24 0Z"/>
</g></g>
<path class="fr" d="M94.20 21.10 H490.80 V319.80"/>
<path class="ax" d="M94.20 20.35 V319.80 H491.55"/>
<path class="ax" d="M94.20 319.80 v-9.0M160.30 319.80 v-9.0M226.40 319.80 v-9.0M292.50 319.80 v-9.0M358.60 319.80 v-9.0M424.70 319.80 v-9.0M490.80 319.80 v-9.0M94.20 21.10 h9.0M94.20 70.88 h9.0M94.20 120.66 h9.0M94.20 170.44 h9.0M94.20 220.22 h9.0M94.20 270.00 h9.0M94.20 319.78 h9.0"/>
<text transform="translate(92.70 346.60) scale(1.030 1)" font-size="21" text-anchor="middle">0</text>
<text transform="translate(158.80 346.60) scale(1.030 1)" font-size="21" text-anchor="middle">0.2</text>
<text transform="translate(224.90 346.60) scale(1.030 1)" font-size="21" text-anchor="middle">0.4</text>
<text transform="translate(291.00 346.60) scale(1.030 1)" font-size="21" text-anchor="middle">0.6</text>
<text transform="translate(357.10 346.60) scale(1.030 1)" font-size="21" text-anchor="middle">0.8</text>
<text transform="translate(423.20 346.60) scale(1.030 1)" font-size="21" text-anchor="middle">1.0</text>
<text transform="translate(489.30 346.60) scale(1.030 1)" font-size="21" text-anchor="middle">1.2</text>
<text transform="translate(84.20 29.30) scale(1.030 1)" font-size="21" text-anchor="end">0.06</text>
<text transform="translate(84.20 79.00) scale(1.030 1)" font-size="21" text-anchor="end">0.04</text>
<text transform="translate(84.20 128.70) scale(1.030 1)" font-size="21" text-anchor="end">0.02</text>
<text transform="translate(84.20 178.40) scale(1.030 1)" font-size="21" text-anchor="end">0</text>
<text transform="translate(84.20 228.10) scale(1.030 1)" font-size="21" text-anchor="end">-0.02</text>
<text transform="translate(84.20 277.80) scale(1.030 1)" font-size="21" text-anchor="end">-0.04</text>
<text transform="translate(84.20 327.50) scale(1.030 1)" font-size="21" text-anchor="end">-0.06</text>
<text transform="translate(223.90 378.70) scale(1.010 1)" font-size="21.5"><tspan font-style="italic">E</tspan> / V vs. RHE</text>
<text transform="translate(27.00 172.10) rotate(-90) scale(1.010 1)" font-size="21.5" text-anchor="middle"><tspan font-style="italic">i</tspan> / mA</text>
<text transform="translate(137.40 80.80) scale(1.025 1)" font-size="21.3" fill="#0808d8">Pd<tspan font-size="13.8" dy="4.6">4.2</tspan><tspan dy="-4.6">/CB</tspan></text>
<text transform="translate(279.60 130.20) scale(1.009 1)" font-size="21.3" fill="#ff0000">Pt/Pd<tspan font-size="13.8" dy="4.6">4.2</tspan><tspan dy="-4.6">/CB</tspan></text>
<text transform="translate(448.00 54.60)" font-size="22.5">(a)</text>
</g>
<g>
<clipPath id="clipb"><rect x="605.35" y="18.65" width="400.55" height="300.40"/></clipPath>
<path class="zero" d="M612.40 167.20 H1001.50"/>
<g clip-path="url(#clipb)">
<g transform="scale(1 1.0)">
<path class="blue" stroke-width="2.6" d="M626.71 278.64 L626.79 276.48 L626.87 274.32 L626.93 272.16 L626.99 270.00 L627.04 267.84M627.17 257.15 L627.18 254.99 L627.18 252.83 L627.17 250.66 L627.17 248.50 L627.16 246.34M627.05 235.65 L627.02 233.49 L627.00 231.33 L626.97 229.16 L626.94 227.00 L626.91 224.84M626.78 214.15 L626.76 211.99 L626.75 209.83 L626.73 207.67 L626.73 205.50 L626.72 203.34M626.78 192.65 L626.80 190.49 L626.83 188.33 L626.87 186.17 L626.91 184.01 L626.95 181.84M627.23 171.16 L627.29 169.00 L627.36 166.84 L627.43 164.68 L627.50 162.51 L627.57 160.35M629.57 106.70 L629.64 104.54 L629.71 102.38 L629.78 100.22 L629.85 98.06 L629.93 95.90M1003.60 85.50 L1003.52 88.70M1003.54 99.39 L1003.56 101.55 L1003.58 103.71 L1003.60 105.87 L1003.60 108.03 L1003.59 110.20"/>
<path class="blue" stroke-width="2.8" d="M625.24 300.09 L625.45 297.94 L625.64 295.79 L625.82 293.64 L625.98 291.48 L626.13 289.33M627.97 149.67 L628.05 147.51 L628.14 145.35 L628.22 143.19 L628.31 141.03 L628.39 138.87M628.81 128.19 L628.89 126.03 L628.97 123.87 L629.05 121.71 L629.13 119.55 L629.21 117.39M630.36 85.21 L630.46 83.06 L630.57 80.90 L630.68 78.74 L630.80 76.58 L630.93 74.42M692.40 239.80 L692.16 241.94 L691.95 244.09 L691.76 246.24 L691.58 248.39 L691.40 250.55M625.54 294.51 L625.31 296.66 L625.09 298.81 L624.87 300.96 L624.65 303.10 L624.44 305.25"/>
<path class="blue" stroke-width="3.0" d="M623.70 313.00 L624.01 310.73M631.73 63.52 L631.94 61.38 L632.20 59.24 L632.53 57.11 L632.92 54.99 L633.47 52.90M635.28 50.85 L635.96 52.88 L636.52 54.95 L636.93 57.06 L637.26 59.18 L637.52 61.32M638.25 76.30 L638.41 78.45 L638.62 80.60 L638.89 82.74 L639.22 84.87 L639.61 87.00M641.89 97.71 L642.34 99.82 L642.76 101.93 L643.14 104.05 L643.49 106.17 L643.79 108.30M1003.22 120.88 L1003.04 123.03 L1002.83 125.18 L1002.58 127.32 L1002.26 129.45 L1001.90 131.58M860.41 264.60 L860.00 266.72 L859.63 268.84 L859.32 270.98 L859.07 273.12 L858.85 275.26M839.11 267.40 L838.67 265.30 L838.23 263.19 L837.77 261.09 L837.32 258.99 L836.85 256.89M690.06 261.16 L690.00 261.50M689.29 260.70 L688.57 258.67 L688.05 256.59 L687.68 254.47 L687.39 252.34 L687.16 250.21M634.98 236.34 L634.51 238.43 L634.05 240.53 L633.59 242.63 L633.15 244.73 L632.71 246.84M632.01 250.26 L631.60 252.38 L631.20 254.49 L630.81 256.61 L630.42 258.73 L630.06 260.85M628.14 273.17 L627.84 275.31 L627.56 277.45 L627.28 279.59 L627.01 281.73 L626.74 283.87"/>
<path class="blue" stroke-width="3.2" d="M871.57 222.84 L870.87 224.86 L870.23 226.90 L869.61 228.95 L869.01 231.00 L868.45 233.06M866.05 242.31 L865.51 244.39 L864.97 246.46 L864.41 248.53 L863.85 250.60 L863.30 252.67M844.85 291.98 L844.29 289.91 L843.75 287.84 L843.23 285.76 L842.72 283.67 L842.22 281.59M833.90 244.24 L833.41 242.14 L832.92 240.05 L832.44 237.96 L831.95 235.87 L831.48 233.77M828.98 222.80 L828.47 220.72 L827.92 218.65 L827.33 216.59 L826.71 214.54 L826.04 212.50M703.87 198.85 L703.06 200.82 L702.30 202.81 L701.60 204.82 L700.92 206.84 L700.26 208.86M696.60 220.52 L696.00 222.58 L695.44 224.65 L694.90 226.73 L694.38 228.81 L693.92 230.90"/>
<path class="blue" stroke-width="3.4" d="M714.83 133.93 L715.69 135.86 L716.54 137.79 L717.42 139.71 L718.32 141.62 L719.26 143.52M999.20 141.93 L998.42 143.89 L997.57 145.81 L996.64 147.70 L995.55 149.51 L994.38 151.25M857.34 287.88 L856.84 289.94 L856.17 291.96 L855.34 293.91 L854.38 295.80 L853.26 297.60M685.44 237.10 L684.85 235.09 L684.01 233.17 L682.95 231.37 L681.71 229.68 L680.23 228.20"/>
<path class="blue" stroke-width="3.6" d="M645.58 118.37 L646.14 120.37 L646.98 122.27 L648.10 124.01 L649.49 125.53 L651.33 126.50M883.16 202.29 L881.81 203.86 L880.55 205.49 L879.34 207.16 L878.18 208.87 L877.11 210.63M821.03 201.58 L819.90 199.87 L818.69 198.21 L817.42 196.60 L816.03 195.09 L814.57 193.65"/>
<path class="blue" stroke-width="3.8" d="M660.99 125.34 L663.13 124.15 L665.21 122.86 L667.26 121.53 L669.33 120.22M701.31 114.24 L702.98 115.36 L704.50 116.69 L705.83 118.21 L707.10 119.78 L708.29 121.41M851.57 142.98 L853.61 141.61 L855.65 140.24 L857.71 138.90 L859.79 137.58M931.51 106.15 L933.63 104.96 L935.75 103.77 L937.88 102.59 L940.03 101.44M986.80 159.14 L985.31 160.48 L983.82 161.83 L982.33 163.16 L980.81 164.47 L979.27 165.75M903.56 186.90 L901.37 187.97 L899.24 189.14 L897.15 190.39 L895.11 191.72M719.29 183.17 L716.98 183.94 L714.79 184.97 L712.75 186.27 L710.89 187.83M648.91 217.09 L646.54 217.58 L644.31 218.49 L642.29 219.79 L640.54 221.44"/>
<path class="blue" stroke-width="4.0" d="M681.35 114.22 L683.60 113.52 L685.90 112.97 L688.23 112.56 L690.58 112.33M727.45 154.28 L729.56 155.36 L731.80 156.13 L734.12 156.66 L736.47 157.02M749.65 158.03 L752.00 158.09 L754.35 158.12 L756.70 158.11 L759.05 158.08M769.39 157.73 L771.74 157.61 L774.08 157.49 L776.43 157.37 L778.78 157.24M789.86 156.73 L792.21 156.66 L794.56 156.61 L796.91 156.57 L799.26 156.56M810.35 156.47 L812.70 156.40 L815.05 156.30 L817.40 156.15 L819.74 155.94M832.31 153.43 L834.57 152.61 L836.79 151.68 L838.96 150.65 L841.10 149.54M870.10 132.16 L872.32 131.31 L874.59 130.58 L876.89 129.96 L879.20 129.42M891.14 126.77 L893.43 126.09 L895.70 125.30 L897.91 124.38 L900.03 123.27M911.78 115.84 L913.92 114.74 L916.10 113.70 L918.30 112.70 L920.50 111.71M951.35 96.78 L953.63 96.13 L955.93 95.55 L958.24 95.04 L960.56 94.58M971.00 93.28 L973.34 93.12 L975.69 92.97 L978.04 92.84 L980.38 92.68M992.08 90.98 L994.38 90.30 L996.64 89.48 L998.83 88.50 L1000.93 87.34M967.12 173.00 L964.86 173.68 L962.55 174.21 L960.22 174.63 L957.88 174.98M945.94 176.42 L943.60 176.72 L941.26 177.07 L938.94 177.47 L936.63 177.93M924.69 180.93 L922.39 181.48 L920.08 182.01 L917.77 182.53 L915.46 183.06M803.50 186.56 L801.26 185.75 L798.99 185.06 L796.69 184.48 L794.36 184.01M784.43 182.98 L782.08 182.88 L779.73 182.83 L777.38 182.80 L775.03 182.79M762.93 182.68 L760.58 182.64 L758.23 182.59 L755.88 182.54 L753.53 182.49M741.44 182.20 L739.09 182.15 L736.74 182.10 L734.39 182.05 L732.04 182.02M669.67 222.13 L667.43 221.29 L665.18 220.52 L662.90 219.80 L660.62 219.12"/>
<path class="redf" d="M627.17 317.42 L627.00 316.23 L626.83 315.04 L626.67 313.86 L626.52 312.68 L626.37 311.50 L626.24 310.31 L626.10 309.12 L625.98 307.94 L625.86 306.75 L625.75 305.56 L625.65 304.37 L625.55 303.18 L625.46 301.99 L625.38 300.79 L625.29 299.60 L625.22 298.41 L625.15 297.22 L625.09 296.02 L625.04 294.83 L624.98 293.63 L624.94 292.44 L624.89 291.24 L624.86 290.05 L624.82 288.85 L624.79 287.65 L624.77 286.46 L624.75 285.26 L624.73 284.06 L624.72 282.87 L624.71 281.67 L624.70 280.47 L624.70 279.27 L624.70 278.08 L624.70 276.88 L624.71 275.68 L624.72 274.48 L624.73 273.28 L624.74 272.08 L624.76 270.88 L624.77 269.68 L624.79 268.48 L624.81 267.28 L624.83 266.08 L624.86 264.88 L624.88 263.68 L624.90 262.48 L624.93 261.28 L624.96 260.08 L624.98 258.88 L625.01 257.68 L625.04 256.48 L625.07 255.28 L625.09 254.08 L625.12 252.88 L625.15 251.68 L625.17 250.47 L625.20 249.27 L625.22 248.07 L625.24 246.87 L625.27 245.67 L625.29 244.46 L625.31 243.26 L625.33 242.06 L625.35 240.86 L625.37 239.66 L625.39 238.45 L625.41 237.25 L625.42 236.05 L625.44 234.85 L625.46 233.65 L625.47 232.45 L625.49 231.24 L625.50 230.04 L625.51 228.84 L625.53 227.64 L625.54 226.44 L625.55 225.23 L625.56 224.03 L625.57 222.83 L625.58 221.63 L625.59 220.43 L625.60 219.23 L625.61 218.02 L625.62 216.82 L625.63 215.62 L625.64 214.42 L625.65 213.22 L625.65 212.02 L625.66 210.81 L625.67 209.61 L625.67 208.41 L625.68 207.21 L625.69 206.01 L625.69 204.81 L625.70 203.60 L625.70 202.40 L625.71 201.20 L625.71 200.00 L625.72 198.80 L625.72 197.60 L625.73 196.40 L625.73 195.19 L625.74 193.99 L625.74 192.79 L625.75 191.59 L625.75 190.39 L625.76 189.19 L625.76 187.99 L625.77 186.79 L625.77 185.58 L625.78 184.38 L625.78 183.18 L625.79 181.98 L625.79 180.78 L625.80 179.58 L625.80 178.38 L625.81 177.18 L625.81 175.97 L625.82 174.77 L625.83 173.57 L625.83 172.37 L625.84 171.17 L625.85 169.97 L625.85 168.77 L625.86 167.57 L625.87 166.37 L625.88 165.17 L625.88 163.96 L625.89 162.76 L625.90 161.56 L625.91 160.36 L625.92 159.16 L625.93 157.96 L625.95 156.76 L625.96 155.56 L625.97 154.36 L625.98 153.16 L625.99 151.96 L626.02 150.76 L626.04 149.56 L626.06 148.35 L626.09 147.15 L626.11 145.95 L626.13 144.75 L626.16 143.55 L626.19 142.35 L626.21 141.15 L626.24 139.95 L626.27 138.75 L626.30 137.55 L626.33 136.35 L626.36 135.15 L626.39 133.95 L626.42 132.75 L626.45 131.55 L626.48 130.35 L626.52 129.15 L626.55 127.95 L626.59 126.75 L626.62 125.55 L626.66 124.35 L626.70 123.15 L626.74 121.95 L626.78 120.75 L626.82 119.55 L626.86 118.35 L626.90 117.15 L626.94 115.95 L626.98 114.76 L627.03 113.56 L627.07 112.36 L627.12 111.16 L627.17 109.96 L627.22 108.76 L627.27 107.56 L627.32 106.36 L627.37 105.16 L627.42 103.96 L627.47 102.76 L627.53 101.57 L627.58 100.37 L627.64 99.17 L627.70 97.97 L627.76 96.77 L627.82 95.57 L627.88 94.37 L624.52 94.23 L624.48 95.43 L624.43 96.63 L624.39 97.83 L624.35 99.03 L624.31 100.24 L624.27 101.44 L624.23 102.64 L624.19 103.84 L624.16 105.04 L624.12 106.25 L624.09 107.45 L624.06 108.65 L624.02 109.85 L623.99 111.06 L623.96 112.26 L623.93 113.46 L623.90 114.66 L623.88 115.86 L623.85 117.07 L623.82 118.27 L623.80 119.47 L623.77 120.67 L623.75 121.88 L623.73 123.08 L623.71 124.28 L623.69 125.48 L623.67 126.68 L623.65 127.89 L623.63 129.09 L623.61 130.29 L623.60 131.49 L623.58 132.69 L623.57 133.90 L623.55 135.10 L623.54 136.30 L623.52 137.50 L623.51 138.71 L623.50 139.91 L623.49 141.11 L623.48 142.31 L623.47 143.51 L623.46 144.72 L623.45 145.92 L623.44 147.12 L623.44 148.32 L623.43 149.52 L623.42 150.73 L623.42 151.93 L623.41 153.13 L623.39 154.33 L623.38 155.53 L623.37 156.73 L623.36 157.94 L623.35 159.14 L623.34 160.34 L623.33 161.54 L623.32 162.74 L623.31 163.95 L623.30 165.15 L623.29 166.35 L623.28 167.55 L623.28 168.75 L623.27 169.95 L623.26 171.16 L623.26 172.36 L623.25 173.56 L623.24 174.76 L623.24 175.96 L623.23 177.16 L623.23 178.36 L623.22 179.57 L623.22 180.77 L623.21 181.97 L623.20 183.17 L623.20 184.37 L623.20 185.57 L623.19 186.77 L623.19 187.98 L623.18 189.18 L623.18 190.38 L623.17 191.58 L623.17 192.78 L623.16 193.98 L623.16 195.18 L623.15 196.39 L623.15 197.59 L623.14 198.79 L623.14 199.99 L623.13 201.19 L623.13 202.39 L623.12 203.59 L623.12 204.79 L623.11 205.99 L623.10 207.20 L623.10 208.40 L623.09 209.60 L623.08 210.80 L623.08 212.00 L623.07 213.20 L623.06 214.40 L623.05 215.60 L623.05 216.80 L623.04 218.00 L623.03 219.21 L623.02 220.41 L623.01 221.61 L623.00 222.81 L622.99 224.01 L622.97 225.21 L622.96 226.41 L622.95 227.61 L622.94 228.81 L622.92 230.01 L622.91 231.21 L622.90 232.41 L622.88 233.61 L622.86 234.81 L622.85 236.02 L622.83 237.22 L622.81 238.42 L622.79 239.62 L622.78 240.82 L622.76 242.02 L622.74 243.22 L622.71 244.42 L622.69 245.62 L622.67 246.82 L622.65 248.02 L622.62 249.22 L622.60 250.42 L622.57 251.62 L622.54 252.82 L622.52 254.02 L622.49 255.22 L622.46 256.42 L622.44 257.62 L622.41 258.83 L622.38 260.03 L622.35 261.23 L622.33 262.43 L622.30 263.63 L622.28 264.83 L622.26 266.04 L622.24 267.24 L622.22 268.44 L622.20 269.65 L622.18 270.85 L622.16 272.05 L622.15 273.26 L622.14 274.46 L622.13 275.66 L622.13 276.87 L622.12 278.07 L622.12 279.28 L622.13 280.48 L622.13 281.69 L622.14 282.89 L622.16 284.10 L622.17 285.30 L622.20 286.51 L622.22 287.71 L622.25 288.92 L622.28 290.12 L622.32 291.33 L622.36 292.53 L622.41 293.74 L622.46 294.95 L622.52 296.15 L622.58 297.36 L622.65 298.56 L622.72 299.77 L622.81 300.97 L622.89 302.18 L622.98 303.38 L623.08 304.58 L623.18 305.79 L623.30 306.99 L623.42 308.19 L623.54 309.40 L623.68 310.60 L623.81 311.80 L623.97 313.00 L624.12 314.20 L624.28 315.40 L624.45 316.59 L624.63 317.78ZM624.60 94.82 L624.93 95.97 L625.28 97.17 L625.69 98.39 L626.15 99.55 L626.63 100.75 L627.24 101.89 L627.85 102.98 L628.55 104.09 L629.27 105.11 L630.05 106.20 L630.96 107.17 L631.86 108.11 L632.90 109.01 L633.96 109.77 L635.17 110.59 L636.54 111.10 L637.82 111.54 L639.28 111.80 L640.62 111.85 L642.04 111.87 L643.42 111.61 L644.67 111.37 L645.96 111.01 L647.16 110.58 L648.38 110.14 L649.55 109.59 L650.67 109.06 L651.79 108.48 L652.87 107.89 L653.94 107.29 L655.00 106.66 L656.03 106.05 L657.06 105.45 L658.09 104.85 L659.09 104.27 L660.12 103.73 L661.13 103.21 L662.14 102.76 L663.21 102.33 L664.19 101.95 L665.23 101.73 L666.28 101.49 L667.27 101.40 L668.38 101.39 L669.39 101.39 L670.41 101.59 L671.51 101.79 L672.53 102.08 L673.61 102.45 L674.64 102.81 L675.64 103.28 L676.68 103.77 L677.66 104.29 L678.66 104.88 L679.61 105.46 L680.53 106.11 L681.47 106.78 L682.35 107.48 L683.23 108.23 L684.09 108.97 L684.90 109.77 L685.73 110.59 L686.52 111.42 L687.30 112.29 L688.07 113.16 L688.80 114.06 L689.55 114.97 L690.26 115.89 L690.98 116.84 L691.69 117.78 L692.38 118.74 L693.07 119.71 L693.76 120.68 L694.44 121.66 L695.12 122.64 L695.80 123.63 L696.48 124.62 L697.17 125.61 L697.85 126.60 L698.54 127.59 L699.23 128.58 L699.93 129.57 L700.64 130.56 L701.35 131.54 L702.07 132.52 L702.81 133.49 L703.55 134.46 L704.32 135.43 L705.08 136.37 L705.87 137.33 L706.68 138.25 L707.49 139.18 L708.34 140.09 L709.19 140.98 L710.06 141.87 L710.97 142.72 L711.88 143.57 L712.85 144.38 L713.80 145.16 L714.80 145.95 L715.83 146.67 L716.86 147.39 L717.95 148.06 L719.03 148.68 L720.15 149.30 L721.30 149.83 L722.43 150.36 L723.62 150.83 L724.77 151.26 L725.96 151.69 L727.16 152.04 L728.35 152.39 L729.57 152.70 L730.77 152.98 L731.98 153.25 L733.20 153.46 L734.42 153.68 L735.64 153.86 L736.85 154.02 L738.08 154.17 L739.30 154.29 L740.52 154.40 L741.75 154.49 L742.96 154.56 L744.19 154.63 L745.41 154.67 L746.63 154.71 L747.86 154.72 L749.07 154.72 L750.30 154.72 L751.52 154.69 L752.73 154.66 L753.95 154.62 L755.16 154.56 L756.38 154.50 L757.59 154.42 L758.80 154.34 L760.01 154.25 L761.22 154.15 L762.43 154.05 L763.63 153.94 L764.83 153.83 L766.04 153.71 L767.23 153.58 L768.44 153.46 L769.63 153.33 L770.83 153.20 L772.03 153.07 L773.22 152.93 L774.41 152.80 L775.61 152.67 L776.80 152.54 L777.99 152.41 L779.18 152.28 L780.37 152.16 L781.56 152.04 L782.75 151.93 L783.94 151.82 L785.13 151.71 L786.33 151.61 L787.52 151.51 L788.72 151.41 L789.91 151.31 L791.11 151.21 L792.31 151.12 L793.51 151.01 L794.71 150.91 L795.91 150.81 L797.11 150.70 L798.32 150.59 L799.52 150.47 L800.73 150.35 L801.93 150.21 L803.13 150.08 L804.34 149.94 L805.55 149.78 L806.75 149.62 L807.96 149.43 L809.16 149.25 L810.37 149.05 L811.57 148.83 L812.77 148.60 L813.98 148.35 L815.17 148.09 L816.37 147.81 L817.56 147.50 L818.75 147.19 L819.94 146.84 L821.10 146.49 L822.29 146.11 L823.44 145.70 L824.60 145.29 L825.75 144.85 L826.89 144.40 L828.02 143.93 L829.14 143.45 L830.26 142.96 L831.37 142.46 L832.47 141.95 L833.58 141.44 L834.67 140.91 L835.76 140.39 L836.84 139.86 L837.92 139.32 L839.00 138.79 L840.08 138.26 L841.15 137.73 L842.23 137.20 L843.31 136.67 L844.38 136.16 L845.46 135.64 L846.53 135.13 L847.61 134.64 L848.69 134.15 L849.78 133.67 L850.87 133.20 L851.96 132.74 L853.06 132.29 L854.16 131.84 L855.26 131.40 L856.38 130.97 L857.49 130.55 L858.60 130.14 L859.72 129.72 L860.84 129.32 L861.96 128.92 L863.09 128.53 L864.21 128.14 L865.34 127.76 L866.47 127.38 L867.61 127.01 L868.75 126.64 L869.88 126.28 L871.03 125.92 L872.17 125.57 L873.31 125.22 L874.45 124.87 L875.60 124.53 L876.75 124.18 L877.89 123.84 L879.05 123.51 L880.20 123.17 L881.35 122.84 L882.50 122.51 L883.65 122.17 L884.81 121.84 L885.96 121.51 L887.12 121.19 L888.27 120.86 L889.43 120.53 L890.58 120.20 L891.74 119.86 L892.90 119.53 L894.05 119.20 L895.21 118.86 L896.37 118.52 L897.52 118.19 L898.68 117.84 L899.83 117.50 L900.99 117.15 L902.14 116.80 L903.30 116.44 L904.45 116.08 L905.60 115.72 L906.76 115.35 L907.90 114.98 L909.06 114.60 L910.20 114.21 L911.35 113.83 L912.49 113.44 L913.63 113.04 L914.78 112.64 L915.92 112.23 L917.05 111.82 L918.19 111.40 L919.32 110.97 L920.45 110.55 L921.58 110.12 L922.71 109.68 L923.84 109.24 L924.96 108.79 L926.08 108.35 L927.20 107.89 L928.32 107.43 L929.44 106.97 L930.55 106.50 L931.66 106.03 L932.78 105.55 L933.88 105.07 L934.99 104.58 L936.09 104.09 L937.20 103.60 L938.30 103.09 L939.40 102.59 L940.50 102.08 L941.59 101.57 L942.68 101.06 L943.77 100.53 L944.86 100.01 L945.95 99.48 L947.03 98.95 L948.12 98.42 L949.20 97.87 L950.28 97.33 L951.35 96.78 L952.43 96.23 L953.50 95.68 L954.57 95.11 L955.64 94.55 L956.71 93.98 L957.77 93.41 L958.84 92.84 L959.90 92.26 L960.95 91.67 L962.01 91.08 L963.06 90.49 L964.11 89.89 L965.15 89.28 L966.20 88.68 L967.24 88.07 L968.28 87.46 L969.32 86.84 L970.36 86.22 L971.39 85.60 L972.42 84.97 L973.45 84.34 L974.48 83.71 L975.51 83.07 L976.53 82.43 L977.55 81.78 L978.57 81.14 L979.59 80.49 L980.60 79.83 L981.61 79.18 L982.63 78.52 L983.63 77.86 L984.64 77.19 L985.65 76.52 L986.65 75.85 L987.65 75.18 L988.64 74.50 L989.64 73.82 L990.64 73.13 L991.63 72.45 L992.62 71.76 L993.60 71.06 L994.59 70.37 L995.58 69.67 L996.56 68.97 L997.54 68.26 L998.51 67.56 L999.49 66.85 L1000.46 66.13 L1001.43 65.42 L1002.40 64.70 L1003.37 63.98 L1004.33 63.26 L1002.47 60.74 L1001.50 61.45 L1000.53 62.15 L999.56 62.85 L998.59 63.55 L997.62 64.25 L996.64 64.94 L995.66 65.64 L994.68 66.32 L993.70 67.01 L992.72 67.69 L991.73 68.37 L990.75 69.05 L989.76 69.72 L988.76 70.39 L987.77 71.06 L986.78 71.72 L985.78 72.39 L984.78 73.04 L983.78 73.70 L982.78 74.35 L981.77 75.00 L980.77 75.65 L979.76 76.29 L978.74 76.93 L977.73 77.57 L976.72 78.20 L975.70 78.83 L974.68 79.45 L973.66 80.08 L972.64 80.70 L971.62 81.31 L970.59 81.93 L969.56 82.54 L968.53 83.14 L967.50 83.75 L966.46 84.34 L965.43 84.94 L964.39 85.53 L963.34 86.12 L962.31 86.71 L961.26 87.29 L960.21 87.87 L959.17 88.44 L958.12 89.02 L957.07 89.59 L956.02 90.16 L954.96 90.72 L953.91 91.28 L952.85 91.84 L951.80 92.40 L950.73 92.94 L949.67 93.49 L948.61 94.03 L947.54 94.57 L946.47 95.11 L945.40 95.63 L944.33 96.16 L943.25 96.68 L942.18 97.20 L941.10 97.72 L940.02 98.22 L938.94 98.73 L937.85 99.23 L936.76 99.73 L935.68 100.23 L934.59 100.71 L933.50 101.20 L932.40 101.68 L931.31 102.15 L930.21 102.63 L929.11 103.09 L928.01 103.56 L926.91 104.01 L925.80 104.47 L924.70 104.92 L923.59 105.36 L922.48 105.80 L921.37 106.24 L920.25 106.67 L919.14 107.10 L918.02 107.51 L916.90 107.93 L915.78 108.34 L914.66 108.75 L913.54 109.15 L912.41 109.55 L911.28 109.94 L910.16 110.33 L909.02 110.71 L907.89 111.09 L906.76 111.46 L905.62 111.83 L904.49 112.19 L903.34 112.55 L902.21 112.91 L901.06 113.26 L899.92 113.61 L898.77 113.96 L897.62 114.30 L896.48 114.64 L895.33 114.98 L894.18 115.31 L893.03 115.65 L891.87 115.98 L890.72 116.31 L889.57 116.64 L888.41 116.97 L887.26 117.30 L886.10 117.63 L884.95 117.96 L883.79 118.29 L882.63 118.62 L881.48 118.95 L880.32 119.29 L879.16 119.62 L878.01 119.96 L876.85 120.30 L875.69 120.64 L874.54 120.99 L873.38 121.33 L872.23 121.68 L871.08 122.04 L869.92 122.40 L868.77 122.76 L867.62 123.12 L866.47 123.50 L865.32 123.87 L864.17 124.26 L863.02 124.64 L861.88 125.03 L860.73 125.44 L859.59 125.84 L858.45 126.26 L857.32 126.68 L856.18 127.10 L855.05 127.54 L853.92 127.98 L852.79 128.44 L851.67 128.90 L850.54 129.36 L849.42 129.84 L848.31 130.32 L847.20 130.82 L846.10 131.33 L844.99 131.84 L843.89 132.36 L842.80 132.88 L841.71 133.41 L840.63 133.95 L839.55 134.48 L838.47 135.02 L837.40 135.56 L836.32 136.09 L835.25 136.62 L834.18 137.15 L833.10 137.67 L832.03 138.19 L830.96 138.70 L829.88 139.20 L828.80 139.70 L827.72 140.17 L826.63 140.64 L825.55 141.09 L824.45 141.53 L823.36 141.96 L822.26 142.35 L821.15 142.75 L820.04 143.11 L818.91 143.45 L817.80 143.79 L816.66 144.08 L815.53 144.38 L814.39 144.65 L813.23 144.91 L812.08 145.16 L810.93 145.37 L809.76 145.59 L808.60 145.79 L807.43 145.98 L806.26 146.16 L805.08 146.32 L803.91 146.48 L802.73 146.62 L801.54 146.76 L800.36 146.89 L799.18 147.01 L797.99 147.13 L796.80 147.24 L795.61 147.34 L794.41 147.44 L793.22 147.54 L792.02 147.64 L790.83 147.74 L789.63 147.83 L788.43 147.93 L787.23 148.02 L786.03 148.12 L784.83 148.22 L783.63 148.33 L782.42 148.44 L781.22 148.55 L780.02 148.67 L778.82 148.79 L777.62 148.92 L776.42 149.04 L775.23 149.17 L774.03 149.30 L772.84 149.43 L771.64 149.56 L770.45 149.69 L769.26 149.82 L768.06 149.95 L766.87 150.07 L765.68 150.19 L764.49 150.31 L763.30 150.42 L762.12 150.52 L760.93 150.62 L759.74 150.71 L758.55 150.80 L757.36 150.88 L756.18 150.95 L755.00 151.01 L753.80 151.06 L752.62 151.10 L751.44 151.13 L750.25 151.15 L749.07 151.16 L747.88 151.15 L746.71 151.14 L745.53 151.10 L744.35 151.06 L743.17 150.99 L741.99 150.92 L740.82 150.83 L739.65 150.72 L738.48 150.60 L737.32 150.45 L736.15 150.29 L735.00 150.12 L733.85 149.91 L732.70 149.70 L731.57 149.44 L730.43 149.17 L729.32 148.89 L728.20 148.55 L727.10 148.22 L726.03 147.84 L724.94 147.42 L723.89 147.00 L722.85 146.51 L721.82 146.03 L720.85 145.48 L719.84 144.89 L718.89 144.30 L717.95 143.64 L717.01 142.98 L716.13 142.28 L715.23 141.54 L714.36 140.79 L713.52 140.00 L712.67 139.21 L711.87 138.38 L711.06 137.53 L710.27 136.68 L709.51 135.79 L708.74 134.91 L708.00 134.00 L707.26 133.08 L706.54 132.15 L705.82 131.21 L705.11 130.26 L704.42 129.31 L703.72 128.34 L703.03 127.37 L702.35 126.40 L701.66 125.42 L700.98 124.43 L700.30 123.45 L699.62 122.46 L698.94 121.47 L698.25 120.48 L697.56 119.48 L696.87 118.49 L696.17 117.50 L695.47 116.52 L694.76 115.53 L694.02 114.55 L693.29 113.57 L692.53 112.60 L691.76 111.65 L690.97 110.69 L690.14 109.75 L689.32 108.84 L688.45 107.92 L687.57 107.06 L686.67 106.17 L685.71 105.34 L684.76 104.54 L683.76 103.74 L682.74 103.01 L681.71 102.27 L680.60 101.61 L679.53 100.98 L678.40 100.36 L677.26 99.83 L676.08 99.29 L674.85 98.85 L673.66 98.44 L672.37 98.08 L671.11 97.84 L669.76 97.60 L668.38 97.58 L667.08 97.59 L665.69 97.73 L664.40 98.01 L663.09 98.31 L661.83 98.78 L660.66 99.25 L659.48 99.78 L658.36 100.35 L657.26 100.93 L656.18 101.55 L655.13 102.16 L654.09 102.77 L653.05 103.39 L652.04 103.99 L651.02 104.56 L649.99 105.13 L648.98 105.65 L647.93 106.15 L646.92 106.62 L645.88 107.00 L644.81 107.38 L643.79 107.66 L642.69 107.88 L641.71 108.08 L640.73 108.04 L639.67 108.01 L638.79 107.86 L637.81 107.51 L636.91 107.21 L636.15 106.66 L635.25 106.02 L634.49 105.36 L633.73 104.55 L632.99 103.78 L632.38 102.91 L631.71 101.97 L631.13 101.04 L630.57 100.04 L630.02 99.08 L629.54 98.07 L629.04 97.03 L628.60 96.00 L628.21 94.91 L627.80 93.78ZM1002.17 61.96 L1002.13 63.16 L1002.09 64.36 L1002.05 65.57 L1002.02 66.77 L1001.99 67.98 L1001.97 69.18 L1001.96 70.39 L1001.94 71.59 L1001.93 72.80 L1001.92 74.00 L1001.91 75.20 L1001.91 76.41 L1001.91 77.61 L1001.91 78.81 L1001.91 80.01 L1001.91 81.22 L1001.91 82.42 L1001.92 83.62 L1001.92 84.82 L1001.93 86.02 L1001.93 87.22 L1001.93 88.42 L1001.93 89.62 L1001.93 90.82 L1001.93 92.02 L1001.93 93.22 L1001.92 94.42 L1001.91 95.62 L1001.90 96.82 L1001.89 98.01 L1001.87 99.21 L1001.85 100.41 L1001.82 101.60 L1001.79 102.80 L1001.75 103.99 L1001.71 105.19 L1001.67 106.38 L1001.61 107.58 L1001.55 108.77 L1001.49 109.96 L1001.42 111.15 L1001.33 112.35 L1001.24 113.53 L1001.13 114.72 L1001.03 115.91 L1000.91 117.09 L1000.78 118.28 L1000.65 119.46 L1000.50 120.65 L1000.35 121.83 L1000.18 123.00 L1000.01 124.19 L999.83 125.36 L999.64 126.54 L999.44 127.71 L999.22 128.87 L999.00 130.04 L998.76 131.20 L998.51 132.37 L998.26 133.53 L997.99 134.68 L997.71 135.83 L997.41 136.98 L997.10 138.13 L996.79 139.27 L996.46 140.40 L996.11 141.54 L995.76 142.66 L995.38 143.79 L995.00 144.91 L994.60 146.01 L994.18 147.12 L993.75 148.21 L993.29 149.30 L992.84 150.38 L992.35 151.44 L991.84 152.50 L991.32 153.54 L990.77 154.58 L990.22 155.61 L989.63 156.60 L989.02 157.61 L988.40 158.57 L987.73 159.53 L987.08 160.48 L986.37 161.37 L985.64 162.29 L984.91 163.15 L984.11 164.00 L983.34 164.83 L982.51 165.59 L981.64 166.37 L980.79 167.09 L979.86 167.78 L978.95 168.46 L978.00 169.07 L977.01 169.69 L976.03 170.27 L975.00 170.81 L973.98 171.36 L972.94 171.84 L971.86 172.34 L970.80 172.80 L969.71 173.25 L968.63 173.69 L967.53 174.10 L966.41 174.51 L965.30 174.91 L964.18 175.29 L963.05 175.68 L961.92 176.05 L960.79 176.42 L959.65 176.79 L958.51 177.15 L957.36 177.52 L956.22 177.89 L955.07 178.26 L953.92 178.64 L952.77 179.03 L951.62 179.42 L950.47 179.83 L949.33 180.25 L948.18 180.68 L947.05 181.12 L945.91 181.57 L944.78 182.05 L943.66 182.52 L942.53 183.01 L941.43 183.52 L940.32 184.03 L939.21 184.57 L938.12 185.10 L937.03 185.65 L935.95 186.21 L934.87 186.78 L933.79 187.37 L932.73 187.96 L931.66 188.56 L930.61 189.17 L929.55 189.78 L928.51 190.42 L927.47 191.05 L926.44 191.70 L925.41 192.35 L924.38 193.01 L923.37 193.69 L922.36 194.37 L921.35 195.07 L920.36 195.78 L919.36 196.49 L918.37 197.24 L917.40 197.97 L916.43 198.73 L915.48 199.51 L914.52 200.29 L913.58 201.11 L912.67 201.92 L911.74 202.76 L910.85 203.61 L909.96 204.47 L909.09 205.37 L908.25 206.27 L907.40 207.19 L906.59 208.13 L905.79 209.08 L905.01 210.06 L904.26 211.02 L903.50 212.02 L902.78 213.02 L902.06 214.02 L901.37 215.05 L900.69 216.07 L900.02 217.11 L899.37 218.15 L898.73 219.20 L898.10 220.26 L897.49 221.31 L896.88 222.38 L896.30 223.45 L895.71 224.52 L895.14 225.61 L894.58 226.68 L894.02 227.77 L893.48 228.86 L892.93 229.94 L892.40 231.04 L891.87 232.12 L891.35 233.22 L890.83 234.31 L890.32 235.40 L889.81 236.50 L889.31 237.59 L888.80 238.68 L888.30 239.77 L887.80 240.85 L887.29 241.94 L886.78 243.02 L886.28 244.09 L885.76 245.17 L885.25 246.24 L884.72 247.29 L884.19 248.36 L883.66 249.41 L883.11 250.45 L882.56 251.49 L881.99 252.51 L881.41 253.54 L880.84 254.55 L880.23 255.56 L879.63 256.55 L879.01 257.53 L878.36 258.51 L877.72 259.46 L877.05 260.41 L876.37 261.35 L875.68 262.26 L874.96 263.18 L874.25 264.06 L873.49 264.92 L872.79 265.70 L872.05 266.34 L871.28 266.95 L870.86 267.25 L870.14 267.32 L869.57 267.49 L869.19 267.34 L868.31 267.01 L867.54 266.66 L866.77 266.09 L865.94 265.49 L865.23 264.81 L864.46 264.02 L863.77 263.26 L863.14 262.39 L862.49 261.51 L861.95 260.60 L861.38 259.60 L860.84 258.63 L860.34 257.60 L859.82 256.54 L859.33 255.47 L858.82 254.38 L858.30 253.27 L857.77 252.17 L857.24 251.07 L856.68 249.97 L856.12 248.89 L855.55 247.81 L854.97 246.74 L854.39 245.68 L853.80 244.61 L853.21 243.56 L852.62 242.51 L852.03 241.46 L851.44 240.42 L850.85 239.37 L850.26 238.33 L849.68 237.29 L849.11 236.24 L848.54 235.20 L847.99 234.15 L847.43 233.10 L846.89 232.04 L846.34 230.98 L845.80 229.91 L845.26 228.84 L844.72 227.77 L844.17 226.70 L843.63 225.62 L843.08 224.55 L842.52 223.47 L841.97 222.40 L841.41 221.32 L840.83 220.26 L840.26 219.18 L839.67 218.11 L839.07 217.06 L838.46 215.99 L837.84 214.94 L837.21 213.89 L836.56 212.84 L835.90 211.81 L835.22 210.77 L834.52 209.76 L833.81 208.75 L833.06 207.75 L832.31 206.77 L831.54 205.79 L830.73 204.84 L829.92 203.89 L829.05 202.97 L828.20 202.08 L827.30 201.19 L826.37 200.34 L825.44 199.50 L824.44 198.70 L823.47 197.94 L822.44 197.18 L821.39 196.49 L820.34 195.81 L819.26 195.17 L818.18 194.57 L817.08 193.96 L815.97 193.41 L814.86 192.87 L813.72 192.36 L812.60 191.87 L811.46 191.39 L810.31 190.95 L809.16 190.51 L808.00 190.10 L806.84 189.71 L805.67 189.32 L804.50 188.97 L803.32 188.62 L802.13 188.30 L800.96 188.00 L799.77 187.69 L798.57 187.41 L797.39 187.14 L796.18 186.89 L794.99 186.65 L793.79 186.42 L792.59 186.21 L791.39 186.01 L790.18 185.83 L788.98 185.66 L787.77 185.50 L786.56 185.36 L785.36 185.21 L784.14 185.09 L782.94 184.98 L781.73 184.87 L780.52 184.78 L779.31 184.68 L778.10 184.61 L776.90 184.53 L775.69 184.47 L774.48 184.41 L773.27 184.36 L772.06 184.31 L770.86 184.27 L769.65 184.23 L768.44 184.20 L767.24 184.17 L766.03 184.14 L764.83 184.12 L763.63 184.10 L762.42 184.08 L761.22 184.06 L760.02 184.04 L758.82 184.03 L757.62 184.01 L756.42 183.99 L755.22 183.98 L754.02 183.96 L752.82 183.93 L751.62 183.91 L750.43 183.89 L749.23 183.85 L748.03 183.82 L746.83 183.78 L745.62 183.74 L744.42 183.71 L743.21 183.68 L742.00 183.66 L740.80 183.64 L739.58 183.63 L738.37 183.64 L737.15 183.64 L735.93 183.68 L734.71 183.72 L733.48 183.78 L732.26 183.88 L731.04 183.97 L729.81 184.11 L728.60 184.27 L727.36 184.44 L726.14 184.67 L724.93 184.91 L723.71 185.21 L722.52 185.53 L721.31 185.87 L720.13 186.30 L718.96 186.71 L717.79 187.19 L716.66 187.69 L715.51 188.21 L714.41 188.80 L713.32 189.39 L712.24 190.03 L711.20 190.68 L710.14 191.36 L709.13 192.08 L708.13 192.80 L707.14 193.57 L706.19 194.34 L705.22 195.13 L704.30 195.95 L703.38 196.77 L702.48 197.63 L701.61 198.48 L700.72 199.35 L699.88 200.26 L699.06 201.16 L698.25 202.10 L697.46 203.03 L696.67 203.98 L695.91 204.95 L695.16 205.91 L694.42 206.89 L693.70 207.87 L692.97 208.86 L692.28 209.87 L691.59 210.87 L690.90 211.88 L690.23 212.89 L689.56 213.90 L688.91 214.92 L688.25 215.94 L687.61 216.96 L686.96 217.97 L686.32 218.99 L685.68 220.01 L685.04 221.03 L684.41 222.04 L683.76 223.05 L683.13 224.06 L682.48 225.06 L681.83 226.06 L681.18 227.05 L680.51 228.04 L679.85 229.01 L679.17 229.98 L678.49 230.95 L677.80 231.90 L677.09 232.85 L676.39 233.78 L675.66 234.70 L674.92 235.63 L674.18 236.52 L673.41 237.42 L672.66 238.31 L671.87 239.16 L671.07 240.03 L670.27 240.86 L669.43 241.69 L668.61 242.50 L667.76 243.28 L666.89 244.06 L666.01 244.80 L665.10 245.54 L664.21 246.26 L663.28 246.93 L662.34 247.61 L661.39 248.24 L660.40 248.85 L659.44 249.45 L658.44 249.98 L657.41 250.53 L656.40 251.01 L655.33 251.48 L654.30 251.93 L653.24 252.30 L652.15 252.68 L651.08 253.00 L649.95 253.29 L648.84 253.58 L647.72 253.82 L646.53 254.07 L645.33 254.35 L644.14 254.64 L642.85 254.96 L641.61 255.44 L640.37 255.92 L639.12 256.61 L638.04 257.37 L636.86 258.24 L635.94 259.36 L635.13 260.36 L634.38 261.48 L633.75 262.59 L633.13 263.72 L632.60 264.89 L632.10 266.02 L631.63 267.21 L631.22 268.37 L630.80 269.56 L630.46 270.76 L630.12 271.94 L629.82 273.14 L629.54 274.33 L629.26 275.52 L629.01 276.72 L628.76 277.91 L628.52 279.11 L628.30 280.30 L628.08 281.50 L627.89 282.70 L627.69 283.89 L627.51 285.09 L627.34 286.28 L627.16 287.49 L627.00 288.69 L626.85 289.88 L626.70 291.09 L626.56 292.28 L626.42 293.49 L626.29 294.69 L626.17 295.89 L626.05 297.09 L625.94 298.29 L625.82 299.50 L625.72 300.70 L625.62 301.90 L625.53 303.10 L625.44 304.30 L625.35 305.51 L625.26 306.71 L625.18 307.91 L625.10 309.11 L625.03 310.31 L624.95 311.51 L624.88 312.72 L624.81 313.92 L624.75 315.12 L624.68 316.32 L624.61 317.52 L627.19 317.68 L627.27 316.48 L627.36 315.29 L627.45 314.09 L627.54 312.90 L627.64 311.70 L627.73 310.51 L627.83 309.31 L627.93 308.12 L628.03 306.92 L628.14 305.73 L628.25 304.54 L628.36 303.35 L628.48 302.16 L628.60 300.97 L628.72 299.78 L628.86 298.59 L628.99 297.40 L629.13 296.22 L629.28 295.03 L629.42 293.85 L629.58 292.67 L629.74 291.48 L629.91 290.30 L630.09 289.12 L630.26 287.94 L630.46 286.77 L630.65 285.59 L630.85 284.42 L631.07 283.25 L631.28 282.08 L631.52 280.92 L631.75 279.75 L632.00 278.60 L632.27 277.44 L632.53 276.29 L632.83 275.15 L633.14 274.01 L633.46 272.90 L633.82 271.77 L634.16 270.68 L634.57 269.61 L635.00 268.52 L635.44 267.48 L635.95 266.44 L636.43 265.43 L637.00 264.48 L637.59 263.51 L638.19 262.65 L638.90 261.79 L639.50 261.05 L640.27 260.53 L641.16 259.91 L642.00 259.46 L643.00 259.10 L644.01 258.72 L645.06 258.48 L646.21 258.21 L647.36 257.97 L648.52 257.74 L649.75 257.50 L650.96 257.19 L652.16 256.88 L653.39 256.51 L654.57 256.10 L655.77 255.68 L656.95 255.17 L658.08 254.68 L659.23 254.13 L660.33 253.54 L661.45 252.95 L662.53 252.28 L663.57 251.63 L664.63 250.92 L665.63 250.20 L666.65 249.47 L667.64 248.68 L668.59 247.91 L669.55 247.09 L670.46 246.27 L671.38 245.43 L672.27 244.55 L673.14 243.69 L674.00 242.79 L674.83 241.89 L675.67 240.98 L676.48 240.04 L677.27 239.11 L678.05 238.15 L678.81 237.19 L679.57 236.23 L680.30 235.24 L681.02 234.26 L681.74 233.26 L682.44 232.26 L683.14 231.26 L683.81 230.25 L684.48 229.24 L685.15 228.22 L685.80 227.20 L686.46 226.18 L687.10 225.16 L687.74 224.14 L688.38 223.11 L689.01 222.09 L689.64 221.07 L690.28 220.05 L690.91 219.04 L691.55 218.03 L692.19 217.02 L692.83 216.02 L693.48 215.02 L694.13 214.03 L694.79 213.04 L695.46 212.06 L696.13 211.09 L696.81 210.14 L697.51 209.18 L698.21 208.24 L698.93 207.31 L699.65 206.38 L700.40 205.48 L701.15 204.57 L701.91 203.69 L702.70 202.82 L703.47 201.94 L704.27 201.10 L705.09 200.24 L705.90 199.42 L706.75 198.61 L707.59 197.80 L708.46 197.04 L709.35 196.27 L710.24 195.54 L711.16 194.82 L712.08 194.12 L713.03 193.47 L714.00 192.81 L714.96 192.19 L715.97 191.61 L716.96 191.03 L717.99 190.52 L719.04 190.01 L720.08 189.55 L721.16 189.14 L722.24 188.74 L723.33 188.43 L724.46 188.12 L725.58 187.84 L726.72 187.62 L727.86 187.39 L729.00 187.23 L730.17 187.07 L731.33 186.94 L732.50 186.84 L733.67 186.75 L734.84 186.69 L736.03 186.64 L737.21 186.60 L738.39 186.59 L739.58 186.58 L740.77 186.58 L741.96 186.60 L743.15 186.61 L744.35 186.64 L745.54 186.67 L746.74 186.70 L747.94 186.74 L749.15 186.77 L750.35 186.80 L751.55 186.84 L752.76 186.87 L753.96 186.90 L755.16 186.93 L756.36 186.96 L757.56 186.99 L758.77 187.02 L759.97 187.04 L761.17 187.07 L762.37 187.10 L763.56 187.13 L764.76 187.16 L765.96 187.20 L767.16 187.23 L768.35 187.27 L769.55 187.31 L770.74 187.36 L771.94 187.42 L773.13 187.47 L774.32 187.54 L775.51 187.60 L776.70 187.68 L777.89 187.76 L779.08 187.85 L780.26 187.95 L781.45 188.05 L782.63 188.17 L783.82 188.29 L784.99 188.42 L786.17 188.57 L787.35 188.72 L788.52 188.89 L789.69 189.06 L790.86 189.25 L792.03 189.45 L793.19 189.66 L794.34 189.90 L795.51 190.14 L796.65 190.39 L797.80 190.67 L798.95 190.94 L800.08 191.25 L801.22 191.58 L802.34 191.92 L803.46 192.29 L804.58 192.65 L805.67 193.05 L806.79 193.46 L807.87 193.88 L808.96 194.33 L810.04 194.78 L811.10 195.26 L812.17 195.76 L813.21 196.26 L814.24 196.81 L815.26 197.35 L816.25 197.93 L817.26 198.53 L818.22 199.14 L819.17 199.80 L820.11 200.45 L821.00 201.14 L821.91 201.86 L822.78 202.58 L823.62 203.35 L824.47 204.13 L825.26 204.94 L826.06 205.79 L826.83 206.63 L827.57 207.51 L828.32 208.40 L829.02 209.31 L829.72 210.25 L830.41 211.18 L831.06 212.14 L831.72 213.11 L832.35 214.08 L832.97 215.09 L833.58 216.08 L834.17 217.10 L834.77 218.12 L835.34 219.14 L835.91 220.19 L836.47 221.22 L837.02 222.27 L837.57 223.33 L838.11 224.39 L838.65 225.45 L839.19 226.52 L839.72 227.59 L840.25 228.66 L840.78 229.74 L841.31 230.81 L841.85 231.89 L842.38 232.97 L842.92 234.05 L843.47 235.14 L844.02 236.21 L844.58 237.29 L845.14 238.37 L845.70 239.44 L846.27 240.51 L846.84 241.57 L847.41 242.64 L847.98 243.70 L848.55 244.75 L849.12 245.80 L849.68 246.86 L850.24 247.91 L850.78 248.96 L851.33 250.01 L851.86 251.07 L852.38 252.13 L852.90 253.18 L853.39 254.25 L853.89 255.32 L854.36 256.40 L854.84 257.50 L855.34 258.62 L855.86 259.73 L856.39 260.87 L856.98 262.01 L857.59 263.11 L858.26 264.27 L859.01 265.34 L859.77 266.43 L860.67 267.47 L861.55 268.42 L862.55 269.42 L863.64 270.26 L864.78 271.14 L866.16 271.85 L867.51 272.40 L869.39 272.86 L871.17 272.57 L872.81 272.18 L874.38 271.22 L875.46 270.31 L876.50 269.35 L877.38 268.31 L878.20 267.36 L878.99 266.37 L879.74 265.39 L880.50 264.39 L881.22 263.37 L881.93 262.36 L882.62 261.31 L883.29 260.28 L883.96 259.23 L884.59 258.16 L885.22 257.11 L885.83 256.03 L886.42 254.96 L887.01 253.88 L887.57 252.79 L888.13 251.70 L888.68 250.61 L889.22 249.52 L889.75 248.42 L890.28 247.32 L890.79 246.23 L891.30 245.13 L891.81 244.03 L892.31 242.93 L892.81 241.84 L893.31 240.74 L893.81 239.65 L894.30 238.56 L894.80 237.47 L895.30 236.38 L895.79 235.30 L896.29 234.22 L896.80 233.14 L897.30 232.06 L897.82 230.99 L898.34 229.93 L898.87 228.87 L899.40 227.81 L899.94 226.76 L900.49 225.71 L901.04 224.67 L901.61 223.64 L902.19 222.61 L902.77 221.60 L903.37 220.59 L903.98 219.58 L904.60 218.60 L905.24 217.60 L905.87 216.63 L906.54 215.68 L907.21 214.72 L907.89 213.79 L908.60 212.85 L909.31 211.94 L910.05 211.05 L910.79 210.15 L911.56 209.30 L912.35 208.43 L913.13 207.59 L913.95 206.77 L914.78 205.94 L915.62 205.15 L916.49 204.36 L917.35 203.58 L918.24 202.82 L919.13 202.06 L920.04 201.33 L920.97 200.59 L921.89 199.87 L922.83 199.17 L923.78 198.47 L924.73 197.78 L925.70 197.10 L926.67 196.43 L927.65 195.77 L928.64 195.11 L929.63 194.47 L930.63 193.83 L931.63 193.20 L932.64 192.59 L933.65 191.97 L934.67 191.38 L935.70 190.79 L936.73 190.21 L937.77 189.66 L938.81 189.10 L939.86 188.56 L940.92 188.03 L941.97 187.51 L943.04 187.01 L944.12 186.51 L945.19 186.03 L946.28 185.56 L947.36 185.09 L948.45 184.65 L949.55 184.21 L950.65 183.79 L951.76 183.38 L952.87 182.97 L953.99 182.58 L955.12 182.19 L956.24 181.81 L957.38 181.43 L958.51 181.05 L959.65 180.68 L960.80 180.30 L961.94 179.92 L963.08 179.53 L964.23 179.14 L965.37 178.74 L966.52 178.33 L967.67 177.91 L968.80 177.48 L969.95 177.04 L971.08 176.56 L972.21 176.09 L973.34 175.58 L974.45 175.05 L975.58 174.51 L976.67 173.92 L977.76 173.32 L978.84 172.67 L979.88 172.01 L980.94 171.31 L981.95 170.55 L982.94 169.79 L983.91 168.96 L984.83 168.12 L985.76 167.25 L986.61 166.31 L987.45 165.40 L988.26 164.42 L989.02 163.45 L989.79 162.45 L990.48 161.41 L991.17 160.39 L991.83 159.32 L992.44 158.26 L993.06 157.18 L993.63 156.08 L994.19 154.98 L994.72 153.86 L995.22 152.75 L995.72 151.62 L996.18 150.48 L996.63 149.35 L997.06 148.19 L997.46 147.05 L997.87 145.89 L998.24 144.72 L998.61 143.56 L998.95 142.39 L999.28 141.22 L999.61 140.05 L999.91 138.86 L1000.21 137.69 L1000.49 136.50 L1000.76 135.32 L1001.02 134.13 L1001.26 132.94 L1001.50 131.75 L1001.72 130.55 L1001.93 129.36 L1002.13 128.16 L1002.32 126.96 L1002.50 125.77 L1002.66 124.56 L1002.82 123.36 L1002.97 122.16 L1003.10 120.95 L1003.23 119.75 L1003.35 118.54 L1003.46 117.34 L1003.56 116.13 L1003.65 114.92 L1003.74 113.72 L1003.81 112.51 L1003.88 111.31 L1003.95 110.10 L1004.02 108.89 L1004.08 107.69 L1004.13 106.48 L1004.17 105.28 L1004.22 104.07 L1004.25 102.86 L1004.28 101.66 L1004.31 100.45 L1004.33 99.25 L1004.35 98.05 L1004.36 96.84 L1004.38 95.64 L1004.38 94.43 L1004.39 93.23 L1004.40 92.03 L1004.40 90.82 L1004.40 89.62 L1004.39 88.42 L1004.39 87.22 L1004.39 86.01 L1004.39 84.81 L1004.38 83.61 L1004.38 82.41 L1004.38 81.21 L1004.37 80.01 L1004.37 78.81 L1004.37 77.61 L1004.37 76.41 L1004.38 75.21 L1004.38 74.02 L1004.39 72.82 L1004.40 71.62 L1004.42 70.42 L1004.44 69.22 L1004.46 68.03 L1004.49 66.83 L1004.51 65.63 L1004.55 64.44 L1004.59 63.24 L1004.63 62.04ZM624.61 317.60a1.29 1.29 0 1 0 2.58 0a1.29 1.29 0 1 0 -2.58 0ZM624.52 94.30a1.68 1.68 0 1 0 3.36 0a1.68 1.68 0 1 0 -3.36 0ZM624.52 94.30a1.68 1.68 0 1 0 3.36 0a1.68 1.68 0 1 0 -3.36 0ZM1001.83 62.00a1.57 1.57 0 1 0 3.14 0a1.57 1.57 0 1 0 -3.14 0ZM1002.17 62.00a1.23 1.23 0 1 0 2.46 0a1.23 1.23 0 1 0 -2.46 0ZM624.61 317.60a1.29 1.29 0 1 0 2.58 0a1.29 1.29 0 1 0 -2.58 0Z"/>
</g></g>
<path class="fr" d="M607.35 19.35 H1003.90 V317.25"/>
<path class="ax" d="M607.35 18.60 V317.25 H1004.65"/>
<path class="ax" d="M607.35 317.25 v-9.0M673.44 317.25 v-9.0M739.53 317.25 v-9.0M805.62 317.25 v-9.0M871.71 317.25 v-9.0M937.80 317.25 v-9.0M1003.89 317.25 v-9.0M607.35 19.35 h9.0M607.35 93.82 h9.0M607.35 168.30 h9.0M607.35 242.77 h9.0M607.35 317.25 h9.0"/>
<text transform="translate(606.35 343.20) scale(1.030 1)" font-size="21" text-anchor="middle">0</text>
<text transform="translate(672.44 343.20) scale(1.030 1)" font-size="21" text-anchor="middle">0.2</text>
<text transform="translate(738.53 343.20) scale(1.030 1)" font-size="21" text-anchor="middle">0.4</text>
<text transform="translate(804.62 343.20) scale(1.030 1)" font-size="21" text-anchor="middle">0.6</text>
<text transform="translate(870.71 343.20) scale(1.030 1)" font-size="21" text-anchor="middle">0.8</text>
<text transform="translate(936.80 343.20) scale(1.030 1)" font-size="21" text-anchor="middle">1.0</text>
<text transform="translate(1002.89 343.20) scale(1.030 1)" font-size="21" text-anchor="middle">1.2</text>
<text transform="translate(598.00 25.80) scale(1.030 1)" font-size="21" text-anchor="end">0.04</text>
<text transform="translate(598.00 100.40) scale(1.030 1)" font-size="21" text-anchor="end">0.02</text>
<text transform="translate(598.00 175.00) scale(1.030 1)" font-size="21" text-anchor="end">0</text>
<text transform="translate(598.00 249.60) scale(1.030 1)" font-size="21" text-anchor="end">-0.02</text>
<text transform="translate(598.00 324.20) scale(1.030 1)" font-size="21" text-anchor="end">-0.04</text>
<text transform="translate(735.80 378.20) scale(1.010 1)" font-size="21.5"><tspan font-style="italic">E</tspan> / V vs. RHE</text>
<text transform="translate(537.70 167.80) rotate(-90) scale(1.010 1)" font-size="21.5" text-anchor="middle"><tspan font-style="italic">i</tspan> / mA</text>
<text transform="translate(651.00 62.70) scale(1.018 1)" font-size="21.3" fill="#0808d8">Pd<tspan font-size="13.8" dy="4.6">3.3</tspan><tspan dy="-4.6">/CB</tspan></text>
<text transform="translate(791.50 101.30) scale(1.009 1)" font-size="21.3" fill="#ff0000">Pt/Pd<tspan font-size="13.8" dy="4.6">3.3</tspan><tspan dy="-4.6">/CB</tspan></text>
<text transform="translate(958.20 51.00)" font-size="25">(b)</text>
</g>
</svg></body></html>
